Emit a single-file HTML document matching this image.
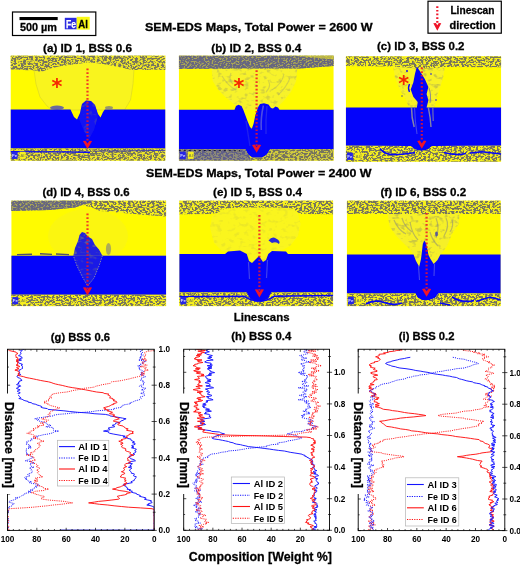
<!DOCTYPE html>
<html lang="en"><head><meta charset="utf-8"><title>SEM-EDS Maps and Linescans</title>
<style>
html,body{margin:0;padding:0;background:#fff;}
svg{display:block;}
text{font-family:"Liberation Sans",sans-serif;font-weight:bold;fill:#000;}
.h{stroke:#000;stroke-width:0.28px;}
</style></head><body>
<svg width="520" height="565" viewBox="0 0 520 565">
<defs>
<filter id="tex" x="0" y="0" width="1" height="1" color-interpolation-filters="sRGB">
<feTurbulence type="fractalNoise" baseFrequency="0.42 0.6" numOctaves="2" seed="4"/>
<feColorMatrix type="matrix" values="0 0 0 0 0.46  0 0 0 0 0.45  0 0 0 0 0.37  9 0 0 0 -4.0"/>
<feGaussianBlur stdDeviation="0.45"/>
<feComposite in2="SourceGraphic" operator="in"/>
</filter>
<filter id="texd" x="0" y="0" width="1" height="1" color-interpolation-filters="sRGB">
<feTurbulence type="fractalNoise" baseFrequency="0.5 0.7" numOctaves="2" seed="9"/>
<feColorMatrix type="matrix" values="0 0 0 0 0.40  0 0 0 0 0.40  0 0 0 0 0.50  7 0 0 0 -2.6"/>
<feGaussianBlur stdDeviation="0.4"/>
<feComposite in2="SourceGraphic" operator="in"/>
</filter>
<filter id="texl" x="0" y="0" width="1" height="1" color-interpolation-filters="sRGB">
<feTurbulence type="fractalNoise" baseFrequency="0.18 0.25" numOctaves="2" seed="12"/>
<feColorMatrix type="matrix" values="0 0 0 0 0.55  0 0 0 0 0.55  0 0 0 0 0.40  5 0 0 0 -2.7"/>
<feComposite in2="SourceGraphic" operator="in"/>
</filter>
<filter id="texy" x="0" y="0" width="1" height="1" color-interpolation-filters="sRGB">
<feTurbulence type="fractalNoise" baseFrequency="0.35 0.45" numOctaves="2" seed="21"/>
<feColorMatrix type="matrix" values="0 0 0 0 0.85  0 0 0 0 0.82  0 0 0 0 0.2  6 0 0 0 -3.0"/>
<feComposite in2="SourceGraphic" operator="in"/>
</filter>
</defs>
<rect x="0" y="0" width="520" height="565" fill="#fff"/>

<rect x="12.5" y="12" width="83.3" height="23.5" fill="#fff" stroke="#000" stroke-width="1.2"/>
<rect x="19.5" y="17" width="38.2" height="3.1" fill="#000"/>
<text x="20.0" y="31.3" font-size="10.6" text-anchor="start" textLength="37.0" lengthAdjust="spacingAndGlyphs" class="h">500 µm</text>
<rect x="64.8" y="17.8" width="11.9" height="11.5" fill="#2a2ae0"/>
<rect x="76.7" y="16.8" width="13" height="12.8" fill="#fafa14"/>
<text x="66.0" y="27.5" font-size="10.8" text-anchor="start" textLength="10.0" lengthAdjust="spacingAndGlyphs" style="fill:#fff;stroke:#fff;stroke-width:0.25px">Fe</text>
<text x="78.3" y="27.5" font-size="10.8" text-anchor="start" textLength="9.6" lengthAdjust="spacingAndGlyphs" class="h">Al</text>
<rect x="428" y="1.2" width="73.3" height="32" fill="#fff" stroke="#000" stroke-width="1.2"/>
<path d="M436.2 6.2h2.2v1.7h-2.2zM436.2 9.9h2.2v1.7h-2.2zM436.2 13.6h2.2v1.7h-2.2zM436.2 17.3h2.2v1.7h-2.2zM436.2 21.0h2.2v1.7h-2.2z" fill="#f01428" opacity="1.00"/>
<path d="M433.3 23.3 L435.9 22.9 L437.3 25.3 L438.7 22.9 L441.3 23.3 L437.3 30.7 Z" fill="#f01428"/>
<text x="450.4" y="13.6" font-size="10.2" text-anchor="start" textLength="44.1" lengthAdjust="spacingAndGlyphs" class="h">Linescan</text>
<text x="449.6" y="28.5" font-size="10.2" text-anchor="start" textLength="46.2" lengthAdjust="spacingAndGlyphs" class="h">direction</text>
<text x="145.0" y="31.0" font-size="11.6" text-anchor="start" textLength="227.5" lengthAdjust="spacingAndGlyphs" class="h">SEM-EDS Maps, Total Power = 2600 W</text>
<text x="146.0" y="176.8" font-size="11.6" text-anchor="start" textLength="225.5" lengthAdjust="spacingAndGlyphs" class="h">SEM-EDS Maps, Total Power = 2400 W</text>
<text x="233.8" y="320.5" font-size="11.6" text-anchor="start" textLength="55.7" lengthAdjust="spacingAndGlyphs" class="h">Linescans</text>
<text x="43.0" y="51.6" font-size="11.6" text-anchor="start" textLength="89.0" lengthAdjust="spacingAndGlyphs" class="h">(a) ID 1, BSS 0.6</text>
<text x="211.3" y="51.6" font-size="11.6" text-anchor="start" textLength="90.0" lengthAdjust="spacingAndGlyphs" class="h">(b) ID 2, BSS 0.4</text>
<text x="377.0" y="50.4" font-size="11.6" text-anchor="start" textLength="87.5" lengthAdjust="spacingAndGlyphs" class="h">(c) ID 3, BSS 0.2</text>
<text x="42.5" y="195.8" font-size="11.6" text-anchor="start" textLength="87.0" lengthAdjust="spacingAndGlyphs" class="h">(d) ID 4, BSS 0.6</text>
<text x="213.0" y="196.2" font-size="11.6" text-anchor="start" textLength="89.0" lengthAdjust="spacingAndGlyphs" class="h">(e) ID 5, BSS 0.4</text>
<text x="380.5" y="195.8" font-size="11.6" text-anchor="start" textLength="85.7" lengthAdjust="spacingAndGlyphs" class="h">(f) ID 6, BSS 0.2</text>
<text x="50.8" y="341.0" font-size="11.6" text-anchor="start" textLength="59.2" lengthAdjust="spacingAndGlyphs" class="h">(g) BSS 0.6</text>
<text x="231.3" y="340.3" font-size="11.6" text-anchor="start" textLength="60.0" lengthAdjust="spacingAndGlyphs" class="h">(h) BSS 0.4</text>
<text x="398.8" y="340.3" font-size="11.6" text-anchor="start" textLength="55.7" lengthAdjust="spacingAndGlyphs" class="h">(i) BSS 0.2</text>
<text x="188.8" y="561.0" font-size="13.2" text-anchor="start" textLength="143.2" lengthAdjust="spacingAndGlyphs" class="h">Composition [Weight %]</text>
<clipPath id="ca"><rect x="10.50" y="55.50" width="155.00" height="105.25"/></clipPath>
<g clip-path="url(#ca)">
<rect x="10.50" y="55.50" width="155.00" height="105.25" fill="#fffb00"/>
<polygon points="34.0,70.0 36.0,84.0 40.0,97.0 47.0,106.0 52.0,110.0 124.5,110.0 130.5,100.0 133.0,84.0 134.0,69.0 110.0,62.0 88.0,60.0 62.0,64.0" fill="#f9f41e" stroke="#c8c432" stroke-width="0.7" stroke-opacity="0.6"/>
<polygon points="10.5,55.5 165.5,55.5 165.5,70.0 132.0,70.0 120.0,67.3 109.0,65.0 98.0,63.3 88.0,62.3 79.0,63.8 61.0,66.0 50.0,68.5 41.0,72.0 35.0,70.5 10.5,69.5" fill="#eee626"/>
<polygon points="10.5,55.5 165.5,55.5 165.5,70.0 132.0,70.0 120.0,67.3 109.0,65.0 98.0,63.3 88.0,62.3 79.0,63.8 61.0,66.0 50.0,68.5 41.0,72.0 35.0,70.5 10.5,69.5" fill="#000" filter="url(#tex)"/>
<polygon points="10.5,109.6 70.5,109.6 74.0,117.0 77.0,119.5 80.0,113.0 82.0,104.0 86.0,100.5 91.0,101.0 95.0,105.0 98.0,114.0 100.5,117.5 103.0,112.0 104.8,109.6 165.5,109.6 165.5,148.5 10.5,148.5" fill="#0404fa"/>
<polygon points="79.0,119.0 82.0,104.0 86.0,100.5 91.0,101.0 95.0,105.0 98.0,116.0 94.0,130.0 89.0,139.0 84.0,131.0" fill="#3030e6" opacity="0.35"/>
<polygon points="79.0,119.0 82.0,104.0 86.0,100.5 91.0,101.0 95.0,105.0 98.0,116.0 94.0,130.0 89.0,139.0 84.0,131.0" fill="#000" filter="url(#texl)" opacity="0.22"/>
<ellipse cx="57" cy="107.8" rx="7" ry="2.2" fill="#3c3cc8" opacity="0.75"/>
<ellipse cx="109" cy="107.8" rx="4" ry="1.8" fill="#6e6e8c" opacity="0.7"/>
<rect x="10.50" y="148.50" width="155.00" height="12.25" fill="#eee626"/>
<rect x="10.50" y="148.50" width="155.00" height="12.25" fill="#000" filter="url(#tex)"/>
<path d="M10.5 151.6 L60 151.9 L90 152.3" stroke="#0404fa" stroke-width="1.4" fill="none"/>
<path d="M95 151.2 L165.5 150.4" stroke="#3a3ab4" stroke-width="0.9" fill="none"/>
<rect x="11.6" y="151.7" width="6" height="7.2" fill="#2626e6"/>
<rect x="19.5" y="151.7" width="5.9" height="7.2" fill="#f6f01e"/>
<text x="14.6" y="156.8" font-size="4.4" text-anchor="middle" style="fill:#dcdcff">Fe</text>
<text x="22.4" y="156.8" font-size="4.4" text-anchor="middle" style="fill:#8c8c46">Al</text>
</g>
<path d="M86.4 68.5h2.2v1.7h-2.2zM86.4 72.2h2.2v1.7h-2.2zM86.4 75.9h2.2v1.7h-2.2zM86.4 79.6h2.2v1.7h-2.2zM86.4 83.3h2.2v1.7h-2.2zM86.4 87.0h2.2v1.7h-2.2zM86.4 90.7h2.2v1.7h-2.2zM86.4 94.4h2.2v1.7h-2.2zM86.4 98.1h2.2v1.7h-2.2zM86.4 101.8h2.2v1.7h-2.2zM86.4 105.5h2.2v1.7h-2.2zM86.4 109.2h2.2v1.7h-2.2zM86.4 112.9h2.2v1.7h-2.2zM86.4 116.6h2.2v1.7h-2.2zM86.4 120.3h2.2v1.7h-2.2zM86.4 124.0h2.2v1.7h-2.2zM86.4 127.7h2.2v1.7h-2.2zM86.4 131.4h2.2v1.7h-2.2zM86.4 135.1h2.2v1.7h-2.2zM86.4 138.8h2.2v1.7h-2.2z" fill="#f01428" opacity="0.85"/>
<path d="M82.9 141.1 L85.5 140.7 L87.5 143.5 L89.5 140.7 L92.1 141.1 L87.5 148.9 Z" fill="#f01428"/>
<text x="57.0" y="93.8" font-size="20.8" text-anchor="middle" style="font-family:'DejaVu Sans',sans-serif;fill:#f52800;font-weight:bold">*</text>
<clipPath id="cb"><rect x="178.75" y="55.50" width="155.00" height="105.25"/></clipPath>
<g clip-path="url(#cb)">
<rect x="178.75" y="55.50" width="155.00" height="105.25" fill="#fffb00"/>
<polygon points="211.6,68.0 297.3,68.0 296.2,81.0 291.0,91.7 284.6,100.0 278.2,106.5 274.0,110.0 237.0,110.0 237.0,106.5 231.7,102.3 224.3,96.0 218.0,89.6 212.7,81.0" fill="#f7f22a"/>
<polygon points="211.6,68.0 297.3,68.0 296.2,81.0 291.0,91.7 284.6,100.0 278.2,106.5 274.0,110.0 237.0,110.0 237.0,106.5 231.7,102.3 224.3,96.0 218.0,89.6 212.7,81.0" fill="#000" filter="url(#texl)" opacity="0.3"/>
<path d="M222 76 Q228 86 236 90 M231 73 Q228 80 233 84 M284 74 Q282 84 272 90 M290 78 Q286 88 278 95 M268 80 Q272 86 266 92" stroke="#a0a06e" stroke-width="1.1" fill="none" opacity="0.4"/>
<polygon points="178.8,55.5 333.8,55.5 333.8,66.0 300.0,68.4 178.8,68.9" fill="#a8a458"/>
<polygon points="178.8,55.5 333.8,55.5 333.8,66.0 300.0,68.4 178.8,68.9" fill="#000" filter="url(#texd)"/>
<polygon points="293.0,55.5 333.8,55.5 333.8,59.5" fill="#eee626" opacity="0.6"/>
<polygon points="178.8,109.8 234.5,109.8 236.0,106.0 238.5,104.8 241.5,106.0 243.3,109.8 247.6,121.3 250.0,127.0 251.8,128.7 253.5,124.0 255.4,115.0 258.0,107.6 260.0,104.0 264.0,103.2 268.5,104.5 271.0,108.0 273.0,108.5 275.5,106.5 278.0,107.5 279.5,109.8 333.8,109.8 333.8,149.0 270.0,149.5 267.0,154.5 262.0,157.7 252.5,157.7 248.0,154.5 245.5,149.5 178.8,149.2" fill="#0404fa"/>
<path d="M263.4 105.5 Q260.5 118 261.3 130" stroke="#6464dc" stroke-width="1.6" fill="none" opacity="0.75"/>
<path d="M267 106 Q265.5 120 266 134" stroke="#3c3ce6" stroke-width="1.3" fill="none" opacity="0.6"/>
<path d="M246 121 Q248 134 250 146" stroke="#3232e6" stroke-width="1.4" fill="none" opacity="0.6"/>
<polygon points="178.8,149.2 245.5,149.5 248.0,154.5 252.5,157.7 262.0,157.7 267.0,154.5 270.0,149.5 333.8,149.0 333.8,160.8 178.8,160.8" fill="#d2cc3c"/>
<polygon points="178.8,149.2 245.5,149.5 248.0,154.5 252.5,157.7 262.0,157.7 267.0,154.5 270.0,149.5 333.8,149.0 333.8,160.8 178.8,160.8" fill="#000" filter="url(#tex)"/>
<polygon points="178.8,149.2 245.5,149.5 248.0,154.5 250.0,157.5 250.0,160.8 178.8,160.8" fill="#4a4ab4" opacity="0.5"/>
<path d="M178.8 150.3 L240 150.8" stroke="#101030" stroke-width="1" stroke-dasharray="2 3" fill="none"/>
<rect x="179.8" y="151.7" width="6" height="7.2" fill="#2626e6"/>
<rect x="187.8" y="151.7" width="5.9" height="7.2" fill="#f6f01e"/>
<text x="182.8" y="156.8" font-size="4.4" text-anchor="middle" style="fill:#dcdcff">Fe</text>
<text x="190.7" y="156.8" font-size="4.4" text-anchor="middle" style="fill:#8c8c46">Al</text>
</g>
<path d="M255.5 70.2h2.2v1.7h-2.2zM255.5 73.9h2.2v1.7h-2.2zM255.5 77.6h2.2v1.7h-2.2zM255.5 81.3h2.2v1.7h-2.2zM255.5 85.0h2.2v1.7h-2.2zM255.5 88.7h2.2v1.7h-2.2zM255.5 92.4h2.2v1.7h-2.2zM255.5 96.1h2.2v1.7h-2.2zM255.5 99.8h2.2v1.7h-2.2zM255.5 103.5h2.2v1.7h-2.2zM255.5 107.2h2.2v1.7h-2.2zM255.5 110.9h2.2v1.7h-2.2zM255.5 114.6h2.2v1.7h-2.2zM255.5 118.3h2.2v1.7h-2.2zM255.5 122.0h2.2v1.7h-2.2zM255.5 125.7h2.2v1.7h-2.2zM255.5 129.4h2.2v1.7h-2.2zM255.5 133.1h2.2v1.7h-2.2zM255.5 136.8h2.2v1.7h-2.2zM255.5 140.5h2.2v1.7h-2.2zM255.5 144.2h2.2v1.7h-2.2z" fill="#f01428" opacity="0.85"/>
<path d="M252.0 144.9 L254.6 144.5 L256.6 147.3 L258.6 144.5 L261.2 144.9 L256.6 152.7 Z" fill="#f01428"/>
<text x="239.0" y="93.8" font-size="20.8" text-anchor="middle" style="font-family:'DejaVu Sans',sans-serif;fill:#f52800;font-weight:bold">*</text>
<clipPath id="cc"><rect x="345.75" y="56.25" width="155.50" height="105.50"/></clipPath>
<g clip-path="url(#cc)">
<rect x="345.75" y="56.25" width="155.50" height="105.50" fill="#fffb00"/>
<polygon points="393.0,65.0 445.0,65.0 443.5,76.0 440.0,88.0 436.0,100.0 434.5,107.4 409.0,107.4 406.0,100.0 400.0,90.0 395.0,78.0" fill="#f8f226"/>
<polygon points="393.0,65.0 445.0,65.0 443.5,76.0 440.0,88.0 436.0,100.0 434.5,107.4 409.0,107.4 406.0,100.0 400.0,90.0 395.0,78.0" fill="#000" filter="url(#texl)" opacity="0.4"/>
<polygon points="345.8,56.2 501.2,56.2 501.2,67.3 445.0,67.0 432.0,68.3 420.0,68.6 406.0,67.6 394.0,66.4 345.8,66.0" fill="#f6f01c"/>
<polygon points="345.8,56.2 501.2,56.2 501.2,67.3 445.0,67.0 432.0,68.3 420.0,68.6 406.0,67.6 394.0,66.4 345.8,66.0" fill="#000" filter="url(#tex)"/>
<polygon points="345.8,107.4 416.9,107.4 417.7,102.0 413.3,96.7 410.7,89.6 413.3,82.5 415.0,73.7 416.9,66.6 420.4,72.0 424.8,79.0 428.4,87.0 426.6,94.0 428.4,100.2 426.6,107.4 501.2,107.4 501.2,145.8 432.0,146.0 428.0,149.5 421.5,151.0 415.0,149.5 410.5,146.0 345.8,145.8" fill="#0404fa"/>
<path d="M411.5 107.6 Q411.5 118 414.2 127" stroke="#9a9a9a" stroke-width="1.5" fill="none" opacity="0.85"/>
<path d="M428.4 107.6 Q430.5 118 431 127" stroke="#9a9a9a" stroke-width="1.4" fill="none" opacity="0.85"/>
<path d="M432.8 107.6 L433.2 121" stroke="#8c8ca0" stroke-width="1.2" fill="none" opacity="0.8"/>
<path d="M414.5 107.6 Q415 122 417 134" stroke="#5a5ae6" stroke-width="1.2" fill="none" opacity="0.7"/>
<path d="M409.5 84 Q407.5 88 409.5 92" stroke="#0404fa" stroke-width="1.4" fill="none"/>
<path d="M429 88 Q431.5 95 430 103" stroke="#7878a0" stroke-width="1.1" fill="none" opacity="0.8"/>
<circle cx="407" cy="71" r="0.9" fill="#0404fa"/><circle cx="436" cy="100" r="0.8" fill="#0404fa"/><circle cx="431" cy="74" r="0.8" fill="#0404fa"/><circle cx="402" cy="96" r="0.8" fill="#5050a0"/>
<polygon points="345.8,145.8 410.5,146.0 415.0,149.5 421.5,151.0 428.0,149.5 432.0,146.0 501.2,145.8 501.2,161.8 345.8,161.8" fill="#f6f01c"/>
<polygon points="345.8,145.8 410.5,146.0 415.0,149.5 421.5,151.0 428.0,149.5 432.0,146.0 501.2,145.8 501.2,161.8 345.8,161.8" fill="#000" filter="url(#tex)"/>
<path d="M380 148.5 Q384 154 392 154.5 T415 152.5" stroke="#0404fa" stroke-width="1.5" fill="none"/>
<path d="M444 152.5 Q456 156 466 153.5" stroke="#0404fa" stroke-width="1.4" fill="none"/>
<path d="M470 153 L482 151.8 L501.2 154" stroke="#0404fa" stroke-width="1.4" fill="none"/>
<rect x="346.9" y="152.7" width="6" height="7.2" fill="#2626e6"/>
<rect x="354.8" y="152.7" width="5.9" height="7.2" fill="#f6f01e"/>
<text x="349.9" y="157.8" font-size="4.4" text-anchor="middle" style="fill:#dcdcff">Fe</text>
<text x="357.7" y="157.8" font-size="4.4" text-anchor="middle" style="fill:#8c8c46">Al</text>
</g>
<path d="M420.7 67.5h2.2v1.7h-2.2zM420.7 71.2h2.2v1.7h-2.2zM420.7 74.9h2.2v1.7h-2.2zM420.7 78.6h2.2v1.7h-2.2zM420.7 82.3h2.2v1.7h-2.2zM420.7 86.0h2.2v1.7h-2.2zM420.7 89.7h2.2v1.7h-2.2zM420.7 93.4h2.2v1.7h-2.2zM420.7 97.1h2.2v1.7h-2.2zM420.7 100.8h2.2v1.7h-2.2zM420.7 104.5h2.2v1.7h-2.2zM420.7 108.2h2.2v1.7h-2.2zM420.7 111.9h2.2v1.7h-2.2zM420.7 115.6h2.2v1.7h-2.2zM420.7 119.3h2.2v1.7h-2.2zM420.7 123.0h2.2v1.7h-2.2zM420.7 126.7h2.2v1.7h-2.2zM420.7 130.4h2.2v1.7h-2.2zM420.7 134.1h2.2v1.7h-2.2zM420.7 137.8h2.2v1.7h-2.2z" fill="#f01428" opacity="0.85"/>
<path d="M417.2 141.0 L419.8 140.6 L421.8 143.4 L423.8 140.6 L426.4 141.0 L421.8 148.8 Z" fill="#f01428"/>
<text x="403.8" y="90.8" font-size="20.8" text-anchor="middle" style="font-family:'DejaVu Sans',sans-serif;fill:#f52800;font-weight:bold">*</text>
<clipPath id="cd"><rect x="11.25" y="200.50" width="155.00" height="105.75"/></clipPath>
<g clip-path="url(#cd)">
<rect x="11.25" y="200.50" width="155.00" height="105.75" fill="#fffb00"/>
<ellipse cx="88" cy="236" rx="40" ry="27" fill="#f6f028" opacity="0.4"/>
<polygon points="60.0,200.5 166.2,200.5 166.2,216.5 140.0,214.5 118.0,212.5 100.0,211.0 91.0,207.0 78.0,204.5" fill="#f6f01c"/>
<polygon points="60.0,200.5 166.2,200.5 166.2,216.5 140.0,214.5 118.0,212.5 100.0,211.0 91.0,207.0 78.0,204.5" fill="#000" filter="url(#tex)"/>
<polygon points="11.2,200.5 93.0,200.5 91.0,203.0 85.0,204.0 75.0,207.5 50.0,210.0 11.2,211.0" fill="#a8a458"/>
<polygon points="11.2,200.5 93.0,200.5 91.0,203.0 85.0,204.0 75.0,207.5 50.0,210.0 11.2,211.0" fill="#000" filter="url(#texd)"/>
<rect x="11.25" y="255.70" width="155.00" height="39.10" fill="#0404fa"/>
<polygon points="82.0,232.0 85.0,233.0 88.0,236.5 92.0,239.0 95.0,245.0 99.0,249.5 102.4,255.7 73.4,255.7 75.0,248.0 78.0,241.0 79.5,235.0" fill="#2222dc"/>
<polygon points="82.0,232.0 85.0,233.0 88.0,236.5 92.0,239.0 95.0,245.0 99.0,249.5 102.4,255.7 73.4,255.7 75.0,248.0 78.0,241.0 79.5,235.0" fill="#000" filter="url(#texl)" opacity="0.5"/>
<polygon points="73.4,255.7 102.4,255.7 99.0,266.0 94.0,278.0 87.6,286.0 82.5,277.0 77.0,266.0" fill="#1a1ae6"/>
<polyline points="102.4,255.7 99.0,266.0 94.0,278.0 87.6,286.0 82.5,277.0 77.0,266.0 73.4,255.7" fill="none" stroke="#8080b4" stroke-width="1" stroke-dasharray="1.5 1.2"/>
<polygon points="73.4,255.7 102.4,255.7 99.0,266.0 94.0,278.0 87.6,286.0 82.5,277.0 77.0,266.0" fill="#000" filter="url(#texl)" opacity="0.25"/>
<ellipse cx="108.5" cy="249" rx="2.6" ry="6" fill="#8c8c78" opacity="0.7"/>
<path d="M17 254.6 L32 254.2 M40 253.8 L52 254.4 M56 254 L69 254.6" stroke="#50506e" stroke-width="1.4" fill="none"/>
<polygon points="11.2,294.8 166.2,294.8 166.2,306.2 11.2,306.2" fill="#f6f01c"/>
<polygon points="11.2,294.8 166.2,294.8 166.2,306.2 11.2,306.2" fill="#000" filter="url(#tex)"/>
<rect x="12.3" y="297.1" width="6" height="7.2" fill="#2626e6"/>
<rect x="20.2" y="297.1" width="5.9" height="7.2" fill="#f6f01e"/>
<text x="15.3" y="302.4" font-size="4.4" text-anchor="middle" style="fill:#dcdcff">Fe</text>
<text x="23.2" y="302.4" font-size="4.4" text-anchor="middle" style="fill:#8c8c46">Al</text>
</g>
<path d="M86.4 213.5h2.2v1.7h-2.2zM86.4 217.2h2.2v1.7h-2.2zM86.4 220.9h2.2v1.7h-2.2zM86.4 224.6h2.2v1.7h-2.2zM86.4 228.3h2.2v1.7h-2.2zM86.4 232.0h2.2v1.7h-2.2zM86.4 235.7h2.2v1.7h-2.2zM86.4 239.4h2.2v1.7h-2.2zM86.4 243.1h2.2v1.7h-2.2zM86.4 246.8h2.2v1.7h-2.2zM86.4 250.5h2.2v1.7h-2.2zM86.4 254.2h2.2v1.7h-2.2zM86.4 257.9h2.2v1.7h-2.2zM86.4 261.6h2.2v1.7h-2.2zM86.4 265.3h2.2v1.7h-2.2zM86.4 269.0h2.2v1.7h-2.2zM86.4 272.7h2.2v1.7h-2.2zM86.4 276.4h2.2v1.7h-2.2zM86.4 280.1h2.2v1.7h-2.2zM86.4 283.8h2.2v1.7h-2.2zM86.4 287.5h2.2v1.7h-2.2z" fill="#f01428" opacity="0.85"/>
<path d="M82.9 287.6 L85.5 287.2 L87.5 290.0 L89.5 287.2 L92.1 287.6 L87.5 295.4 Z" fill="#f01428"/>
<clipPath id="ce"><rect x="179.25" y="200.50" width="154.00" height="105.75"/></clipPath>
<g clip-path="url(#ce)">
<rect x="179.25" y="200.50" width="154.00" height="105.75" fill="#fffb00"/>
<polygon points="225.0,207.0 293.0,207.0 298.0,214.0 300.6,224.0 298.0,236.0 290.0,246.0 280.6,251.0 268.0,254.0 265.0,262.0 250.0,262.0 247.0,254.0 222.0,251.0 214.0,243.0 210.0,228.0 212.0,216.0" fill="#faf51e"/>
<polygon points="225.0,207.0 293.0,207.0 298.0,214.0 300.6,224.0 298.0,236.0 290.0,246.0 280.6,251.0 268.0,254.0 265.0,262.0 250.0,262.0 247.0,254.0 222.0,251.0 214.0,243.0 210.0,228.0 212.0,216.0" fill="#000" filter="url(#texl)" opacity="0.12"/>
<polygon points="179.2,200.5 333.2,200.5 333.2,214.3 300.0,214.0 293.0,208.5 280.0,207.5 240.0,207.5 225.0,208.5 215.0,214.0 179.2,214.3" fill="#f6f01c"/>
<polygon points="179.2,200.5 333.2,200.5 333.2,214.3 300.0,214.0 293.0,208.5 280.0,207.5 240.0,207.5 225.0,208.5 215.0,214.0 179.2,214.3" fill="#000" filter="url(#tex)"/>
<polygon points="179.2,254.0 225.0,254.0 228.0,251.5 240.0,250.5 246.8,254.0 249.0,261.0 252.0,263.0 256.0,259.0 259.0,256.0 263.0,262.0 266.0,260.0 268.3,254.0 272.0,251.0 286.0,251.5 288.0,254.0 333.2,254.0 333.2,292.4 179.2,292.4" fill="#0404fa"/>
<path d="M248.5 262 L249.5 279" stroke="#5050e6" stroke-width="1.2" fill="none" opacity="0.8"/>
<path d="M267.5 260 L266.5 278" stroke="#5050e6" stroke-width="1.2" fill="none" opacity="0.8"/>
<path d="M268.5 240.5 Q272 236 276 238.5 Q281 241 279 244 Q276 241 272 243 Z" fill="#2828dc"/>
<polygon points="179.2,292.4 333.2,292.4 333.2,306.2 179.2,306.2" fill="#f6f01c"/>
<polygon points="179.2,292.4 333.2,292.4 333.2,306.2 179.2,306.2" fill="#000" filter="url(#tex)"/>
<path d="M179.2 296.6 L244 296.3 Q259 306 274 296.3 L333.2 295.5" stroke="#0404fa" stroke-width="1.4" fill="none"/>
<polygon points="246.5,292.0 271.5,292.0 268.0,298.5 262.0,301.6 255.0,301.6 250.0,298.5" fill="#0404fa"/>
<rect x="180.3" y="297.1" width="6" height="7.2" fill="#2626e6"/>
<rect x="188.2" y="297.1" width="5.9" height="7.2" fill="#f6f01e"/>
<text x="183.3" y="302.4" font-size="4.4" text-anchor="middle" style="fill:#dcdcff">Fe</text>
<text x="191.2" y="302.4" font-size="4.4" text-anchor="middle" style="fill:#8c8c46">Al</text>
</g>
<path d="M258.3 215.0h2.2v1.7h-2.2zM258.3 218.7h2.2v1.7h-2.2zM258.3 222.4h2.2v1.7h-2.2zM258.3 226.1h2.2v1.7h-2.2zM258.3 229.8h2.2v1.7h-2.2zM258.3 233.5h2.2v1.7h-2.2zM258.3 237.2h2.2v1.7h-2.2zM258.3 240.9h2.2v1.7h-2.2zM258.3 244.6h2.2v1.7h-2.2zM258.3 248.3h2.2v1.7h-2.2zM258.3 252.0h2.2v1.7h-2.2zM258.3 255.7h2.2v1.7h-2.2zM258.3 259.4h2.2v1.7h-2.2zM258.3 263.1h2.2v1.7h-2.2zM258.3 266.8h2.2v1.7h-2.2zM258.3 270.5h2.2v1.7h-2.2zM258.3 274.2h2.2v1.7h-2.2zM258.3 277.9h2.2v1.7h-2.2zM258.3 281.6h2.2v1.7h-2.2zM258.3 285.3h2.2v1.7h-2.2zM258.3 289.0h2.2v1.7h-2.2z" fill="#f01428" opacity="0.85"/>
<path d="M254.8 289.6 L257.4 289.2 L259.4 292.0 L261.4 289.2 L264.0 289.6 L259.4 297.4 Z" fill="#f01428"/>
<clipPath id="cf"><rect x="346.75" y="200.50" width="154.00" height="105.75"/></clipPath>
<g clip-path="url(#cf)">
<rect x="346.75" y="200.50" width="154.00" height="105.75" fill="#fffb00"/>
<polygon points="387.5,213.0 459.6,213.0 458.7,224.0 452.0,233.8 447.0,246.3 440.4,254.6 437.5,260.0 433.7,264.0 430.5,258.0 428.0,250.0 422.0,250.0 421.0,259.0 419.2,266.5 416.0,261.0 413.5,254.6 410.6,250.0 403.8,243.5 396.0,235.8 389.4,226.0" fill="#f6f028"/>
<polygon points="387.5,213.0 459.6,213.0 458.7,224.0 452.0,233.8 447.0,246.3 440.4,254.6 437.5,260.0 433.7,264.0 430.5,258.0 428.0,250.0 422.0,250.0 421.0,259.0 419.2,266.5 416.0,261.0 413.5,254.6 410.6,250.0 403.8,243.5 396.0,235.8 389.4,226.0" fill="#000" filter="url(#texl)" opacity="0.4"/>
<path d="M394 220 Q398 230 406 234 M402 218 Q404 226 412 232 M410 222 Q412 234 418 240 M436 218 Q440 228 436 238 M446 218 Q450 226 444 236 M452 220 Q454 226 450 232 M430 232 Q432 240 438 246" stroke="#8c8c78" stroke-width="1.2" fill="none" opacity="0.55"/>
<ellipse cx="436.5" cy="234" rx="1.4" ry="2.4" fill="#5a5a96"/>
<polygon points="346.8,200.5 500.8,200.5 500.8,213.9 346.8,213.9" fill="#f6f01c"/>
<polygon points="346.8,200.5 500.8,200.5 500.8,213.9 346.8,213.9" fill="#000" filter="url(#tex)"/>
<polygon points="346.8,254.6 413.5,254.6 416.0,261.0 419.2,266.8 421.0,259.0 422.0,251.0 422.8,244.0 424.2,240.6 426.0,243.0 427.5,250.0 428.5,255.0 430.5,259.0 433.7,264.0 437.5,260.0 440.4,254.6 500.8,254.6 500.8,293.4 438.5,293.4 435.0,298.0 429.0,300.2 422.0,300.2 417.5,297.5 415.4,293.4 346.8,293.4" fill="#0404fa"/>
<path d="M418.5 266 L419.5 280 M434.5 264 L434 276" stroke="#6464e6" stroke-width="1.1" fill="none" opacity="0.7"/>
<polygon points="346.8,293.4 415.4,293.4 417.5,297.5 422.0,300.2 429.0,300.2 435.0,298.0 438.5,293.4 500.8,293.4 500.8,306.2 346.8,306.2" fill="#f6f01c"/>
<polygon points="346.8,293.4 415.4,293.4 417.5,297.5 422.0,300.2 429.0,300.2 435.0,298.0 438.5,293.4 500.8,293.4 500.8,306.2 346.8,306.2" fill="#000" filter="url(#tex)"/>
<path d="M366 304 Q374 299 384 302.5 T402 303" stroke="#0404fa" stroke-width="1.8" fill="none"/>
<path d="M452 297 Q462 303.5 474 300.5" stroke="#0404fa" stroke-width="1.8" fill="none"/>
<path d="M476 301.5 L490 297 L500.8 300" stroke="#0404fa" stroke-width="1.6" fill="none"/>
<path d="M440 303 L450 305" stroke="#0404fa" stroke-width="1.6" fill="none"/>
<rect x="347.9" y="297.1" width="6" height="7.2" fill="#2626e6"/>
<rect x="355.8" y="297.1" width="5.9" height="7.2" fill="#f6f01e"/>
<text x="350.9" y="302.4" font-size="4.4" text-anchor="middle" style="fill:#dcdcff">Fe</text>
<text x="358.7" y="302.4" font-size="4.4" text-anchor="middle" style="fill:#8c8c46">Al</text>
</g>
<path d="M425.5 213.0h2.2v1.7h-2.2zM425.5 216.7h2.2v1.7h-2.2zM425.5 220.4h2.2v1.7h-2.2zM425.5 224.1h2.2v1.7h-2.2zM425.5 227.8h2.2v1.7h-2.2zM425.5 231.5h2.2v1.7h-2.2zM425.5 235.2h2.2v1.7h-2.2zM425.5 238.9h2.2v1.7h-2.2zM425.5 242.6h2.2v1.7h-2.2zM425.5 246.3h2.2v1.7h-2.2zM425.5 250.0h2.2v1.7h-2.2zM425.5 253.7h2.2v1.7h-2.2zM425.5 257.4h2.2v1.7h-2.2zM425.5 261.1h2.2v1.7h-2.2zM425.5 264.8h2.2v1.7h-2.2zM425.5 268.5h2.2v1.7h-2.2zM425.5 272.2h2.2v1.7h-2.2zM425.5 275.9h2.2v1.7h-2.2zM425.5 279.6h2.2v1.7h-2.2zM425.5 283.3h2.2v1.7h-2.2zM425.5 287.0h2.2v1.7h-2.2z" fill="#f01428" opacity="0.85"/>
<path d="M422.0 288.9 L424.6 288.5 L426.6 291.3 L428.6 288.5 L431.2 288.9 L426.6 296.7 Z" fill="#f01428"/>
<clipPath id="pg"><rect x="7.5" y="349.2" width="146.7" height="181.1"/></clipPath><g clip-path="url(#pg)">
<polyline points="23.8,349.2 22.9,349.9 20.5,350.6 21.2,351.4 20.9,352.1 20.2,352.8 21.3,353.5 20.4,354.3 19.6,355.0 18.5,355.7 21.1,356.4 21.3,357.2 22.4,357.9 19.7,358.6 19.0,359.3 21.5,360.1 18.6,360.8 17.3,361.5 18.1,362.2 18.6,363.0 20.9,363.7 22.5,364.4 21.0,365.1 22.4,365.9 22.4,366.6 22.2,367.3 23.0,368.0 21.5,368.8 20.9,369.5 18.9,370.2 19.4,370.9 19.1,371.7 19.6,372.4 19.1,373.1 19.8,373.8 20.8,374.6 18.2,375.3 17.0,376.0 17.1,376.7 17.7,377.5 19.6,378.2 20.8,378.9 21.0,379.6 22.1,380.4 19.4,381.1 19.8,381.8 18.0,382.5 19.1,383.3 17.1,384.0 16.6,384.7 20.1,385.4 20.7,386.2 17.8,386.9 18.4,387.6 16.4,388.3 18.0,389.1 20.1,389.8 18.6,390.5 17.2,391.2 18.7,392.0 20.2,392.7 19.7,393.4 16.7,394.1 16.2,394.9 18.8,395.6 19.3,396.3 20.2,397.0 20.8,397.8 18.8,398.5 22.1,399.2 23.0,399.9 24.9,400.7 28.0,401.4 28.0,402.1 31.7,402.8 32.2,403.6 35.8,404.3 37.1,405.0 39.7,405.7 41.7,406.5 41.0,407.2 42.9,407.9 47.3,408.6 48.1,409.4 55.6,410.1 63.9,410.8 69.7,411.5 77.8,412.3 88.9,413.0 94.1,413.7 105.3,414.4 109.2,415.2 109.9,415.9 114.2,416.6 118.0,417.3 122.5,418.1 126.1,418.8 123.8,419.5 123.5,420.2 120.9,421.0 120.4,421.7 119.2,422.4 115.5,423.1 115.7,423.9 114.8,424.6 112.3,425.3 114.2,426.0 114.6,426.8 110.2,427.5 108.1,428.2 109.6,428.9 110.0,429.7 106.7,430.4 103.5,431.1 108.8,431.8 108.4,432.6 109.9,433.3 113.2,434.0 117.0,434.7 121.6,435.5 125.2,436.2 123.0,436.9 127.0,437.6 127.4,438.4 131.1,439.1 130.9,439.8 131.2,440.5 133.0,441.2 134.5,442.0 132.4,442.7 134.9,443.4 135.3,444.1 133.8,444.9 131.6,445.6 132.0,446.3 134.0,447.0 131.5,447.8 134.3,448.5 136.4,449.2 135.9,449.9 134.6,450.7 136.0,451.4 135.9,452.1 134.8,452.8 133.1,453.6 134.6,454.3 133.9,455.0 130.8,455.7 128.9,456.5 129.7,457.2 129.9,457.9 130.5,458.6 133.0,459.4 134.7,460.1 135.5,460.8 131.1,461.5 130.2,462.3 128.3,463.0 132.4,463.7 131.0,464.4 131.1,465.2 129.8,465.9 131.4,466.6 128.4,467.3 131.9,468.1 131.0,468.8 130.2,469.5 129.3,470.2 130.1,471.0 131.0,471.7 131.3,472.4 131.1,473.1 134.3,473.9 134.3,474.6 133.5,475.3 133.7,476.0 136.4,476.8 136.1,477.5 135.4,478.2 135.2,478.9 134.2,479.7 134.3,480.4 132.5,481.1 130.9,481.8 132.3,482.6 129.2,483.3 125.2,484.0 123.3,484.7 123.7,485.5 126.2,486.2 125.8,486.9 126.7,487.6 128.1,488.4 126.9,489.1 130.6,489.8 129.0,490.5 132.4,491.3 131.2,492.0 133.1,492.7 136.4,493.4 136.6,494.2 138.9,494.9 140.4,495.6 139.5,496.3 142.8,497.1 145.8,497.8 146.0,498.5 144.4,499.2 147.7,500.0 151.3,500.7 150.6,501.4 152.1,502.1 151.7,502.9 148.4,503.6 149.1,504.3 146.8,505.0 151.0,505.8 152.8,506.5 154.2,507.2 154.1,507.9 154.0,508.7 154.2,509.4 154.1,510.1 154.2,510.8 154.2,511.6 154.2,512.3 154.1,513.0 154.0,513.7 154.0,514.5 153.9,515.2 154.2,515.9 154.2,516.6 154.2,517.4 154.2,518.1 154.2,518.8 154.2,519.5 154.2,520.3 154.2,521.0 154.2,521.7 154.1,522.4 153.9,523.2 154.1,523.9 154.2,524.6 154.2,525.3 154.2,526.1 154.2,526.8 154.2,527.5 154.2,528.2 154.2,529.0 154.1,529.7 154.2,530.4" fill="none" stroke="#1414ff" stroke-width="0.95" stroke-linejoin="round"/>
<polyline points="139.6,349.2 140.2,349.9 141.6,350.6 139.9,351.4 142.0,352.1 142.9,352.8 141.4,353.5 140.4,354.3 143.3,355.0 142.3,355.7 140.0,356.4 141.6,357.2 139.2,357.9 142.2,358.6 143.0,359.3 138.4,360.1 144.6,360.8 146.1,361.5 142.1,362.2 143.4,363.0 141.9,363.7 139.8,364.4 141.2,365.1 137.7,365.9 140.3,366.6 140.5,367.3 138.4,368.0 140.0,368.8 139.2,369.5 141.6,370.2 142.8,370.9 143.6,371.7 140.9,372.4 140.9,373.1 143.6,373.8 140.0,374.6 142.2,375.3 144.2,376.0 145.6,376.7 143.0,377.5 141.3,378.2 142.0,378.9 140.2,379.6 140.6,380.4 143.9,381.1 142.5,381.8 144.3,382.5 143.0,383.3 144.1,384.0 143.9,384.7 140.0,385.4 139.4,386.2 142.2,386.9 142.3,387.6 146.0,388.3 144.8,389.1 141.2,389.8 143.0,390.5 143.9,391.2 144.4,392.0 142.6,392.7 140.5,393.4 144.6,394.1 144.8,394.9 144.4,395.6 142.8,396.3 140.0,397.0 140.4,397.8 141.2,398.5 140.7,399.2 138.9,399.9 135.7,400.7 133.9,401.4 132.7,402.1 129.7,402.8 130.8,403.6 127.3,404.3 122.8,405.0 123.3,405.7 121.1,406.5 121.3,407.2 118.1,407.9 113.2,408.6 113.7,409.4 106.1,410.1 96.8,410.8 92.8,411.5 84.4,412.3 72.4,413.0 67.1,413.7 58.1,414.4 53.9,415.2 53.1,415.9 46.7,416.6 43.1,417.3 37.5,418.1 34.7,418.8 38.8,419.5 37.3,420.2 39.1,421.0 41.8,421.7 44.2,422.4 46.7,423.1 46.7,423.9 48.0,424.6 51.0,425.3 48.8,426.0 45.8,426.8 53.1,427.5 53.2,428.2 53.1,428.9 52.8,429.7 53.9,430.4 58.9,431.1 54.0,431.8 53.4,432.6 51.1,433.3 48.4,434.0 43.5,434.7 40.5,435.5 36.4,436.2 37.9,436.9 34.9,437.6 33.5,438.4 30.7,439.1 32.1,439.8 31.8,440.5 27.7,441.2 26.3,442.0 27.7,442.7 26.1,443.4 26.1,444.1 29.1,444.9 28.8,445.6 31.1,446.3 28.0,447.0 31.4,447.8 27.8,448.5 25.9,449.2 26.1,449.9 26.3,450.7 25.5,451.4 26.7,452.1 25.9,452.8 27.8,453.6 26.0,454.3 29.4,455.0 30.5,455.7 31.4,456.5 32.8,457.2 32.9,457.9 30.1,458.6 29.2,459.4 27.4,460.1 25.1,460.8 31.0,461.5 32.6,462.3 34.4,463.0 29.8,463.7 30.0,464.4 31.0,465.2 30.9,465.9 31.9,466.6 34.2,467.3 29.3,468.1 30.8,468.8 31.5,469.5 30.8,470.2 32.4,471.0 31.8,471.7 32.1,472.4 30.7,473.1 28.1,473.9 27.5,474.6 29.9,475.3 29.8,476.0 25.7,476.8 24.7,477.5 27.0,478.2 25.0,478.9 27.2,479.7 27.8,480.4 28.2,481.1 31.7,481.8 29.1,482.6 31.3,483.3 36.3,484.0 39.0,484.7 39.4,485.5 35.2,486.2 37.0,486.9 35.4,487.6 33.4,488.4 33.2,489.1 30.5,489.8 32.6,490.5 28.0,491.3 31.2,492.0 29.0,492.7 24.7,493.4 24.9,494.2 23.8,494.9 21.6,495.6 21.1,496.3 19.8,497.1 15.1,497.8 17.3,498.5 15.7,499.2 13.4,500.0 11.0,500.7 9.4,501.4 8.6,502.1 11.5,502.9 14.2,503.6 12.6,504.3 13.1,505.0 12.0,505.8 10.5,506.5 8.2,507.2 9.2,507.9 8.0,508.7 7.4,509.4 7.8,510.1 8.8,510.8 9.2,511.6 6.4,512.3 7.8,513.0 7.8,513.7 7.8,514.5 7.1,515.2 6.1,515.9 6.3,516.6 6.7,517.4 8.1,518.1 8.7,518.8 8.9,519.5 6.2,520.3 9.1,521.0 7.3,521.7 6.2,522.4 8.4,523.2 8.0,523.9 7.8,524.6 5.9,525.3 6.9,526.1 6.3,526.8 9.1,527.5 6.7,528.2 7.7,529.0 7.9,529.7 6.4,530.4" fill="none" stroke="#1414ff" stroke-width="0.95" stroke-linejoin="round" stroke-dasharray="1.1 1.1"/>
<polyline points="7.6,349.2 8.3,349.9 9.4,350.6 13.0,351.4 16.0,352.1 16.5,352.8 18.0,353.5 16.1,354.3 15.6,355.0 15.8,355.7 16.1,356.4 15.8,357.2 17.9,357.9 17.6,358.6 18.7,359.3 16.0,360.1 18.5,360.8 16.3,361.5 18.6,362.2 17.0,363.0 17.8,363.7 17.9,364.4 16.0,365.1 18.8,365.9 19.9,366.6 16.7,367.3 17.0,368.0 19.0,368.8 16.0,369.5 14.9,370.2 18.0,370.9 18.1,371.7 19.5,372.4 19.3,373.1 17.9,373.8 19.3,374.6 17.6,375.3 20.6,376.0 23.7,376.7 26.0,377.5 29.7,378.2 33.3,378.9 36.6,379.6 40.3,380.4 44.1,381.1 48.4,381.8 51.1,382.5 53.1,383.3 55.5,384.0 58.6,384.7 62.2,385.4 65.3,386.2 68.3,386.9 72.2,387.6 77.1,388.3 81.4,389.1 85.3,389.8 89.0,390.5 92.3,391.2 96.6,392.0 103.1,392.7 104.1,393.4 108.8,394.1 107.8,394.9 109.7,395.6 110.0,396.3 110.7,397.0 109.5,397.8 112.8,398.5 112.4,399.2 114.5,399.9 113.2,400.7 116.4,401.4 117.0,402.1 116.7,402.8 113.3,403.6 113.9,404.3 111.1,405.0 110.2,405.7 108.4,406.5 105.7,407.2 103.6,407.9 105.7,408.6 104.6,409.4 108.8,410.1 107.2,410.8 109.9,411.5 112.5,412.3 110.8,413.0 109.4,413.7 113.9,414.4 114.8,415.2 112.8,415.9 114.5,416.6 116.0,417.3 118.2,418.1 119.3,418.8 117.0,419.5 114.3,420.2 113.3,421.0 115.8,421.7 119.7,422.4 120.1,423.1 118.1,423.9 117.8,424.6 119.5,425.3 123.0,426.0 123.7,426.8 125.0,427.5 125.4,428.2 128.2,428.9 126.6,429.7 126.7,430.4 131.4,431.1 133.4,431.8 132.0,432.6 133.3,433.3 129.5,434.0 129.4,434.7 127.7,435.5 126.3,436.2 127.6,436.9 127.1,437.6 126.4,438.4 123.2,439.1 121.0,439.8 122.4,440.5 118.8,441.2 120.6,442.0 122.7,442.7 123.0,443.4 120.5,444.1 122.0,444.9 122.7,445.6 121.7,446.3 121.5,447.0 122.7,447.8 125.5,448.5 126.1,449.2 125.1,449.9 125.6,450.7 127.2,451.4 129.6,452.1 130.8,452.8 129.8,453.6 130.3,454.3 133.7,455.0 131.7,455.7 130.0,456.5 129.1,457.2 127.9,457.9 127.1,458.6 128.4,459.4 127.4,460.1 128.8,460.8 130.6,461.5 129.9,462.3 129.4,463.0 125.7,463.7 125.0,464.4 125.2,465.2 124.6,465.9 126.7,466.6 125.2,467.3 123.4,468.1 123.9,468.8 124.7,469.5 123.9,470.2 123.7,471.0 121.4,471.7 123.3,472.4 124.8,473.1 124.4,473.9 122.3,474.6 121.2,475.3 121.3,476.0 120.1,476.8 122.6,477.5 125.7,478.2 124.8,478.9 124.7,479.7 126.2,480.4 124.5,481.1 125.5,481.8 126.7,482.6 126.9,483.3 123.8,484.0 125.8,484.7 123.4,485.5 121.7,486.2 120.2,486.9 117.1,487.6 115.8,488.4 112.5,489.1 116.6,489.8 119.2,490.5 125.1,491.3 128.1,492.0 130.5,492.7 126.6,493.4 126.8,494.2 124.6,494.9 120.3,495.6 117.3,496.3 118.0,497.1 118.5,497.8 119.6,498.5 118.5,499.2 111.9,500.0 106.0,500.7 98.5,501.4 94.3,502.1 88.6,502.9 94.4,503.6 99.7,504.3 107.8,505.0 114.1,505.8 121.3,506.5 128.4,507.2 140.4,507.9 152.0,508.7 153.9,509.4 154.2,510.1 154.2,510.8 154.2,511.6 154.2,512.3 154.1,513.0 154.1,513.7 154.2,514.5 154.0,515.2 154.0,515.9 154.2,516.6 154.2,517.4 154.2,518.1 154.1,518.8 154.1,519.5 154.0,520.3 154.2,521.0 154.1,521.7 154.2,522.4 154.2,523.2 154.2,523.9 154.2,524.6 154.2,525.3 154.1,526.1 154.2,526.8 154.2,527.5 154.2,528.2 154.1,529.0 154.1,529.7 154.2,530.4" fill="none" stroke="#ff1414" stroke-width="0.95" stroke-linejoin="round"/>
<polyline points="155.6,349.2 154.4,349.9 153.0,350.6 147.3,351.4 145.7,352.1 144.4,352.8 145.1,353.5 145.6,354.3 144.9,355.0 145.9,355.7 144.1,356.4 144.6,357.2 144.2,357.9 145.8,358.6 142.1,359.3 147.0,360.1 144.9,360.8 144.6,361.5 141.9,362.2 143.6,363.0 142.3,363.7 144.9,364.4 147.2,365.1 144.2,365.9 140.1,366.6 146.4,367.3 145.9,368.0 144.3,368.8 147.3,369.5 148.5,370.2 144.2,370.9 144.8,371.7 142.9,372.4 140.9,373.1 145.0,373.8 141.3,374.6 143.3,375.3 140.9,376.0 137.7,376.7 134.8,377.5 131.7,378.2 129.3,378.9 125.7,379.6 122.3,380.4 118.0,381.1 111.6,381.8 110.9,382.5 110.2,383.3 106.3,384.0 102.0,384.7 99.7,385.4 95.7,386.2 94.9,386.9 91.1,387.6 84.0,388.3 81.9,389.1 77.1,389.8 73.1,390.5 70.5,391.2 66.8,392.0 60.3,392.7 56.0,393.4 52.2,394.1 52.3,394.9 52.0,395.6 50.1,396.3 49.7,397.0 51.8,397.8 48.8,398.5 49.3,399.2 48.1,399.9 49.0,400.7 44.5,401.4 45.7,402.1 43.7,402.8 48.4,403.6 47.5,404.3 49.5,405.0 51.0,405.7 54.5,406.5 56.9,407.2 59.9,407.9 57.7,408.6 55.5,409.4 52.6,410.1 52.9,410.8 50.8,411.5 49.9,412.3 49.3,413.0 50.8,413.7 48.0,414.4 48.4,415.2 49.5,415.9 48.4,416.6 46.2,417.3 45.0,418.1 41.6,418.8 43.0,419.5 48.4,420.2 47.4,421.0 45.6,421.7 42.1,422.4 40.2,423.1 44.0,423.9 42.7,424.6 43.9,425.3 37.0,426.0 39.1,426.8 38.5,427.5 34.9,428.2 32.7,428.9 34.5,429.7 34.0,430.4 30.8,431.1 29.6,431.8 30.4,432.6 26.8,433.3 30.5,434.0 33.3,434.7 34.2,435.5 35.6,436.2 32.7,436.9 36.3,437.6 34.1,438.4 39.4,439.1 40.5,439.8 40.6,440.5 44.4,441.2 39.8,442.0 39.0,442.7 37.1,443.4 39.9,444.1 38.8,444.9 40.5,445.6 39.6,446.3 38.5,447.0 39.0,447.8 37.8,448.5 36.7,449.2 34.9,449.9 34.4,450.7 35.3,451.4 32.8,452.1 30.1,452.8 31.9,453.6 32.5,454.3 26.3,455.0 29.6,455.7 32.2,456.5 34.2,457.2 33.7,457.9 33.7,458.6 34.4,459.4 35.8,460.1 32.1,460.8 29.6,461.5 32.3,462.3 32.4,463.0 35.5,463.7 36.6,464.4 37.8,465.2 37.9,465.9 36.0,466.6 37.6,467.3 39.8,468.1 38.2,468.8 38.0,469.5 36.6,470.2 38.7,471.0 38.7,471.7 37.3,472.4 37.7,473.1 38.5,473.9 39.1,474.6 40.6,475.3 40.2,476.0 43.0,476.8 38.9,477.5 35.1,478.2 37.1,478.9 37.8,479.7 34.0,480.4 37.9,481.1 34.4,481.8 34.4,482.6 36.6,483.3 38.1,484.0 37.1,484.7 37.3,485.5 40.3,486.2 43.0,486.9 43.0,487.6 44.9,488.4 48.8,489.1 44.9,489.8 44.0,490.5 34.9,491.3 34.3,492.0 31.1,492.7 35.1,493.4 35.0,494.2 38.8,494.9 40.0,495.6 44.4,496.3 44.1,497.1 41.9,497.8 40.9,498.5 42.5,499.2 48.3,500.0 56.3,500.7 64.5,501.4 67.9,502.1 72.7,502.9 66.2,503.6 61.2,504.3 53.4,505.0 47.2,505.8 39.8,506.5 33.1,507.2 23.0,507.9 9.5,508.7 8.6,509.4 9.0,510.1 7.1,510.8 6.3,511.6 8.3,512.3 7.0,513.0 7.1,513.7 6.9,514.5 6.3,515.2 7.1,515.9 9.0,516.6 7.1,517.4 8.0,518.1 7.9,518.8 7.0,519.5 8.8,520.3 7.1,521.0 6.0,521.7 9.0,522.4 6.3,523.2 6.8,523.9 7.8,524.6 6.6,525.3 9.1,526.1 8.7,526.8 5.7,527.5 7.1,528.2 8.8,529.0 8.9,529.7 7.7,530.4" fill="none" stroke="#ff1414" stroke-width="0.95" stroke-linejoin="round" stroke-dasharray="1.1 1.1"/>
<line x1="60" y1="529.8" x2="154.2" y2="529.8" stroke="#5050d0" stroke-width="0.8"/>
</g>
<g stroke="#000" stroke-width="0.9" fill="none">
<rect x="7.50" y="349.25" width="146.70" height="181.15"/>
<path d="M7.50 349.25v2.6M7.50 530.40v-2.6M13.37 349.25v1.4M13.37 530.40v-1.4M19.24 349.25v1.4M19.24 530.40v-1.4M25.10 349.25v1.4M25.10 530.40v-1.4M30.97 349.25v1.4M30.97 530.40v-1.4M36.84 349.25v2.6M36.84 530.40v-2.6M42.71 349.25v1.4M42.71 530.40v-1.4M48.58 349.25v1.4M48.58 530.40v-1.4M54.44 349.25v1.4M54.44 530.40v-1.4M60.31 349.25v1.4M60.31 530.40v-1.4M66.18 349.25v2.6M66.18 530.40v-2.6M72.05 349.25v1.4M72.05 530.40v-1.4M77.92 349.25v1.4M77.92 530.40v-1.4M83.78 349.25v1.4M83.78 530.40v-1.4M89.65 349.25v1.4M89.65 530.40v-1.4M95.52 349.25v2.6M95.52 530.40v-2.6M101.39 349.25v1.4M101.39 530.40v-1.4M107.26 349.25v1.4M107.26 530.40v-1.4M113.12 349.25v1.4M113.12 530.40v-1.4M118.99 349.25v1.4M118.99 530.40v-1.4M124.86 349.25v2.6M124.86 530.40v-2.6M130.73 349.25v1.4M130.73 530.40v-1.4M136.60 349.25v1.4M136.60 530.40v-1.4M142.46 349.25v1.4M142.46 530.40v-1.4M148.33 349.25v1.4M148.33 530.40v-1.4M154.20 349.25v2.6M154.20 530.40v-2.6M7.50 530.40h2.6M154.20 530.40h-2.6M154.20 530.40h2.6M7.50 512.25h1.4M154.20 512.25h-1.4M154.20 512.25h1.4M7.50 494.10h2.6M154.20 494.10h-2.6M154.20 494.10h2.6M7.50 475.95h1.4M154.20 475.95h-1.4M154.20 475.95h1.4M7.50 457.80h2.6M154.20 457.80h-2.6M154.20 457.80h2.6M7.50 439.65h1.4M154.20 439.65h-1.4M154.20 439.65h1.4M7.50 421.50h2.6M154.20 421.50h-2.6M154.20 421.50h2.6M7.50 403.35h1.4M154.20 403.35h-1.4M154.20 403.35h1.4M7.50 385.20h2.6M154.20 385.20h-2.6M154.20 385.20h2.6M7.50 367.05h1.4M154.20 367.05h-1.4M154.20 367.05h1.4" stroke-width="0.7"/>
</g>
<text x="7.5" y="541.6" font-size="8.2" text-anchor="middle">100</text>
<text x="36.8" y="541.6" font-size="8.2" text-anchor="middle">80</text>
<text x="66.2" y="541.6" font-size="8.2" text-anchor="middle">60</text>
<text x="95.5" y="541.6" font-size="8.2" text-anchor="middle">40</text>
<text x="124.9" y="541.6" font-size="8.2" text-anchor="middle">20</text>
<text x="154.2" y="541.6" font-size="8.2" text-anchor="middle">0</text>
<text x="158.6" y="533.3" font-size="8.2" text-anchor="start">0.0</text>
<text x="158.6" y="497.0" font-size="8.2" text-anchor="start">0.2</text>
<text x="158.6" y="460.7" font-size="8.2" text-anchor="start">0.4</text>
<text x="158.6" y="424.4" font-size="8.2" text-anchor="start">0.6</text>
<text x="158.6" y="388.1" font-size="8.2" text-anchor="start">0.8</text>
<text x="158.6" y="351.8" font-size="8.2" text-anchor="start">1.0</text>
<rect x="57.5" y="440.3" width="51.3" height="45.7" fill="#fff" stroke="#b4b4b4" stroke-width="0.7"/>
<line x1="59.0" y1="446.6" x2="75.0" y2="446.6" stroke="#1414ff" stroke-width="1.1"/>
<text x="78.3" y="449.9" font-size="9.3" text-anchor="start" textLength="29.3" lengthAdjust="spacingAndGlyphs">Al ID 1</text>
<line x1="59.0" y1="458.0" x2="75.0" y2="458.0" stroke="#1414ff" stroke-width="1.1" stroke-dasharray="1.2 1.2"/>
<text x="78.3" y="461.3" font-size="9.3" text-anchor="start" textLength="29.3" lengthAdjust="spacingAndGlyphs">Fe ID 1</text>
<line x1="59.0" y1="469.0" x2="75.0" y2="469.0" stroke="#ff1414" stroke-width="1.1"/>
<text x="78.3" y="472.3" font-size="9.3" text-anchor="start" textLength="29.3" lengthAdjust="spacingAndGlyphs">Al ID 4</text>
<line x1="59.0" y1="480.5" x2="75.0" y2="480.5" stroke="#ff1414" stroke-width="1.1" stroke-dasharray="1.2 1.2"/>
<text x="78.3" y="483.8" font-size="9.3" text-anchor="start" textLength="29.3" lengthAdjust="spacingAndGlyphs">Fe ID 4</text>
<rect x="2.6" y="393.5" width="15.5" height="100.5" fill="#fff"/>
<text transform="translate(5.2 445) rotate(90)" class="h" font-size="12.8" text-anchor="middle" textLength="86" lengthAdjust="spacingAndGlyphs">Distance [mm]</text>
<clipPath id="ph"><rect x="183.7" y="349.2" width="145.8" height="181.0"/></clipPath><g clip-path="url(#ph)">
<polyline points="209.6,349.2 206.9,349.9 206.1,350.5 207.0,351.1 209.4,351.8 206.2,352.4 204.6,353.0 206.2,353.7 207.1,354.3 209.5,354.9 212.4,355.6 211.0,356.2 208.8,356.8 211.7,357.5 207.6,358.1 210.0,358.7 211.2,359.4 213.2,360.0 206.9,360.6 206.0,361.3 204.7,361.9 206.1,362.5 211.1,363.2 211.2,363.8 210.0,364.4 212.4,365.1 207.2,365.7 209.4,366.3 212.0,366.9 208.2,367.6 211.7,368.2 207.3,368.8 209.0,369.5 209.0,370.1 210.6,370.7 210.3,371.4 212.5,372.0 214.6,372.6 209.2,373.3 211.6,373.9 208.5,374.5 211.4,375.2 206.9,375.8 205.4,376.4 205.8,377.1 205.9,377.7 207.3,378.3 206.8,379.0 211.1,379.6 210.4,380.2 207.3,380.9 210.7,381.5 206.7,382.1 205.2,382.7 208.1,383.4 209.7,384.0 209.8,384.6 210.3,385.3 205.9,385.9 208.5,386.5 212.3,387.2 213.6,387.8 209.4,388.4 205.4,389.1 207.3,389.7 208.2,390.3 208.1,391.0 206.6,391.6 209.8,392.2 208.4,392.9 208.1,393.5 207.4,394.1 210.4,394.8 211.9,395.4 211.1,396.0 206.4,396.7 208.6,397.3 207.7,397.9 209.5,398.5 211.8,399.2 213.1,399.8 208.0,400.4 205.9,401.1 208.0,401.7 206.6,402.3 206.0,403.0 204.0,403.6 202.7,404.2 206.2,404.9 203.4,405.5 202.3,406.1 204.6,406.8 203.3,407.4 205.8,408.0 207.7,408.7 209.5,409.3 205.5,409.9 209.1,410.6 211.4,411.2 206.9,411.8 205.0,412.5 206.4,413.1 204.3,413.7 209.2,414.3 209.9,415.0 209.9,415.6 208.9,416.2 210.1,416.9 211.1,417.5 209.3,418.1 204.0,418.8 200.7,419.4 200.8,420.0 202.6,420.7 204.9,421.3 200.3,421.9 201.3,422.6 200.2,423.2 204.9,423.8 205.6,424.5 201.1,425.1 199.3,425.7 197.7,426.4 199.1,427.0 200.9,427.6 200.5,428.3 198.2,428.9 203.0,429.5 206.1,430.1 211.2,430.8 211.6,431.4 219.4,432.0 220.5,432.7 222.0,433.3 224.5,433.9 221.7,434.6 219.3,435.2 216.5,435.8 214.9,436.5 214.1,437.1 212.3,437.7 212.3,438.4 214.3,439.0 218.8,439.6 222.4,440.3 225.4,440.9 228.4,441.5 230.0,442.2 233.2,442.8 234.0,443.4 236.4,444.1 240.6,444.7 242.7,445.3 245.8,445.9 248.3,446.6 254.1,447.2 259.7,447.8 264.9,448.5 269.6,449.1 273.5,449.7 278.6,450.4 284.3,451.0 287.1,451.6 290.2,452.3 294.1,452.9 298.0,453.5 302.0,454.2 302.9,454.8 305.1,455.4 304.6,456.1 306.8,456.7 306.9,457.3 308.9,458.0 309.1,458.6 311.0,459.2 312.4,459.9 312.3,460.5 312.9,461.1 310.8,461.7 312.7,462.4 312.8,463.0 312.9,463.6 311.3,464.3 314.5,464.9 314.0,465.5 314.3,466.2 313.7,466.8 312.4,467.4 314.7,468.1 314.1,468.7 314.6,469.3 314.7,470.0 316.9,470.6 314.7,471.2 313.0,471.9 315.0,472.5 316.1,473.1 313.6,473.8 316.5,474.4 317.9,475.0 318.6,475.7 315.7,476.3 314.7,476.9 315.6,477.5 315.3,478.2 317.8,478.8 316.2,479.4 316.4,480.1 316.2,480.7 316.8,481.3 317.0,482.0 317.8,482.6 319.0,483.2 317.8,483.9 318.1,484.5 316.2,485.1 314.9,485.8 314.6,486.4 315.7,487.0 317.1,487.7 317.1,488.3 316.7,488.9 315.8,489.6 314.0,490.2 317.0,490.8 316.6,491.5 316.3,492.1 315.2,492.7 314.0,493.3 313.9,494.0 314.5,494.6 314.2,495.2 314.4,495.9 313.7,496.5 314.0,497.1 314.3,497.8 316.3,498.4 314.2,499.0 315.6,499.7 315.2,500.3 314.1,500.9 313.0,501.6 312.4,502.2 316.4,502.8 316.8,503.5 317.0,504.1 316.8,504.7 317.7,505.4 316.3,506.0 317.8,506.6 317.5,507.3 314.5,507.9 314.0,508.5 315.0,509.1 317.0,509.8 314.2,510.4 314.0,511.0 316.1,511.7 316.5,512.3 315.3,512.9 314.6,513.6 316.1,514.2 313.7,514.8 315.4,515.5 316.4,516.1 314.3,516.7 316.4,517.4 315.0,518.0 316.4,518.6 315.4,519.3 316.3,519.9 316.2,520.5 313.7,521.2 314.7,521.8 315.2,522.4 314.6,523.1 315.9,523.7 316.9,524.3 316.4,524.9 316.6,525.6 317.1,526.2 313.9,526.8 316.6,527.5 314.3,528.1 312.8,528.7 313.1,529.4 316.2,530.0" fill="none" stroke="#1414ff" stroke-width="0.95" stroke-linejoin="round"/>
<polyline points="304.1,349.2 307.5,349.9 308.6,350.5 304.4,351.1 303.4,351.8 306.2,352.4 308.3,353.0 307.5,353.7 305.1,354.3 303.4,354.9 299.6,355.6 301.5,356.2 303.0,356.8 301.8,357.5 307.1,358.1 304.7,358.7 301.1,359.4 301.5,360.0 305.7,360.6 306.6,361.3 310.5,361.9 305.9,362.5 304.1,363.2 300.4,363.8 301.7,364.4 302.0,365.1 305.0,365.7 302.8,366.3 302.9,366.9 304.3,367.6 303.1,368.2 304.1,368.8 303.4,369.5 302.1,370.1 304.5,370.7 303.7,371.4 300.2,372.0 298.1,372.6 305.4,373.3 299.9,373.9 303.2,374.5 302.7,375.2 307.9,375.8 307.0,376.4 307.8,377.1 306.6,377.7 305.9,378.3 306.9,379.0 304.2,379.6 304.4,380.2 306.0,380.9 301.5,381.5 306.8,382.1 306.9,382.7 304.9,383.4 301.8,384.0 302.7,384.6 303.7,385.3 308.9,385.9 306.6,386.5 302.9,387.2 298.0,387.8 302.2,388.4 306.7,389.1 307.6,389.7 304.3,390.3 306.7,391.0 304.9,391.6 302.7,392.2 303.7,392.9 304.7,393.5 306.1,394.1 301.2,394.8 299.3,395.4 303.2,396.0 307.1,396.7 303.5,397.3 304.7,397.9 304.1,398.5 301.6,399.2 298.1,399.8 306.2,400.4 308.5,401.1 304.3,401.7 307.5,402.3 305.4,403.0 309.9,403.6 308.7,404.2 307.5,404.9 308.2,405.5 309.8,406.1 307.6,406.8 311.1,407.4 308.9,408.0 307.6,408.7 305.1,409.3 306.9,409.9 306.0,410.6 302.9,411.2 306.0,411.8 309.7,412.5 307.6,413.1 310.1,413.7 303.2,414.3 305.0,415.0 301.1,415.6 303.8,416.2 302.1,416.9 301.8,417.5 303.9,418.1 307.2,418.8 310.8,419.4 311.0,420.0 312.6,420.7 307.9,421.3 310.9,421.9 311.3,422.6 313.0,423.2 307.6,423.8 309.0,424.5 311.1,425.1 312.7,425.7 317.3,426.4 314.1,427.0 311.8,427.6 313.3,428.3 314.2,428.9 308.3,429.5 305.4,430.1 302.8,430.8 303.1,431.4 292.2,432.0 292.2,432.7 289.7,433.3 287.1,433.9 292.4,434.6 293.6,435.2 297.6,435.8 297.0,436.5 298.2,437.1 302.1,437.7 300.9,438.4 298.5,439.0 295.5,439.6 292.2,440.3 287.9,440.9 286.7,441.5 283.2,442.2 278.1,442.8 277.8,443.4 278.7,444.1 271.2,444.7 269.5,445.3 266.5,445.9 267.0,446.6 258.0,447.2 254.9,447.8 246.9,448.5 244.4,449.1 240.3,449.7 236.1,450.4 227.3,451.0 227.3,451.6 221.4,452.3 219.1,452.9 216.7,453.5 210.5,454.2 210.2,454.8 210.2,455.4 207.1,456.1 207.4,456.7 208.4,457.3 203.2,458.0 203.1,458.6 202.7,459.2 202.1,459.9 200.8,460.5 199.9,461.1 201.6,461.7 200.6,462.4 200.1,463.0 199.4,463.6 203.2,464.3 200.0,464.9 199.3,465.5 197.7,466.2 198.2,466.8 199.2,467.4 198.8,468.1 198.2,468.7 200.4,469.3 199.0,470.0 198.2,470.6 197.1,471.2 198.0,471.9 197.5,472.5 196.0,473.1 200.1,473.8 195.5,474.4 197.1,475.0 195.2,475.7 198.2,476.3 197.0,476.9 199.0,477.5 199.4,478.2 197.2,478.8 195.5,479.4 197.6,480.1 195.2,480.7 197.3,481.3 194.8,482.0 196.7,482.6 192.4,483.2 193.3,483.9 193.4,484.5 196.1,485.1 196.6,485.8 196.7,486.4 195.5,487.0 197.0,487.7 194.5,488.3 195.3,488.9 198.1,489.6 200.7,490.2 194.5,490.8 196.7,491.5 196.7,492.1 196.3,492.7 199.3,493.3 200.4,494.0 197.9,494.6 198.9,495.2 199.8,495.9 198.7,496.5 197.4,497.1 200.0,497.8 195.6,498.4 197.9,499.0 197.5,499.7 199.3,500.3 198.4,500.9 201.1,501.6 201.9,502.2 195.3,502.8 197.4,503.5 197.9,504.1 194.9,504.7 193.3,505.4 197.7,506.0 195.8,506.6 195.5,507.3 197.6,507.9 201.3,508.5 197.5,509.1 197.3,509.8 197.1,510.4 199.6,511.0 195.1,511.7 196.9,512.3 197.2,512.9 200.7,513.6 198.4,514.2 200.4,514.8 198.4,515.5 198.2,516.1 199.2,516.7 198.6,517.4 197.9,518.0 194.7,518.6 196.3,519.3 196.4,519.9 194.9,520.5 198.5,521.2 198.0,521.8 198.2,522.4 200.4,523.1 195.6,523.7 194.6,524.3 195.5,524.9 195.7,525.6 194.7,526.2 197.3,526.8 194.6,527.5 197.7,528.1 202.5,528.7 198.2,529.4 196.7,530.0" fill="none" stroke="#1414ff" stroke-width="0.95" stroke-linejoin="round" stroke-dasharray="1.1 1.1"/>
<polyline points="196.2,349.2 201.8,349.9 205.4,350.5 197.9,351.1 202.2,351.8 204.6,352.4 200.8,353.0 201.8,353.7 197.2,354.3 201.3,354.9 196.3,355.6 200.0,356.2 199.0,356.8 195.5,357.5 196.1,358.1 194.2,358.7 195.3,359.4 202.0,360.0 197.2,360.6 197.7,361.3 200.5,361.9 202.9,362.5 197.8,363.2 198.0,363.8 194.7,364.4 194.7,365.1 193.0,365.7 195.9,366.3 195.9,366.9 196.7,367.6 200.3,368.2 195.4,368.8 199.2,369.5 196.5,370.1 193.7,370.7 195.2,371.4 200.6,372.0 196.7,372.6 196.4,373.3 200.8,373.9 204.0,374.5 201.0,375.2 204.3,375.8 197.4,376.4 198.2,377.1 198.5,377.7 199.6,378.3 197.8,379.0 194.6,379.6 198.8,380.2 200.1,380.9 198.7,381.5 200.8,382.1 198.9,382.7 198.6,383.4 199.4,384.0 197.6,384.6 198.1,385.3 202.4,385.9 195.9,386.5 199.0,387.2 199.6,387.8 200.2,388.4 195.5,389.1 193.2,389.7 196.3,390.3 198.7,391.0 202.6,391.6 197.0,392.2 201.2,392.9 199.5,393.5 200.7,394.1 201.4,394.8 201.4,395.4 203.0,396.0 205.1,396.7 201.4,397.3 197.3,397.9 196.9,398.5 200.8,399.2 198.0,399.8 202.7,400.4 201.5,401.1 197.1,401.7 194.2,402.3 197.2,403.0 195.0,403.6 197.2,404.2 198.0,404.9 197.8,405.5 193.9,406.1 194.4,406.8 197.2,407.4 196.1,408.0 196.4,408.7 199.2,409.3 196.4,409.9 194.9,410.6 196.1,411.2 193.6,411.8 201.1,412.5 199.9,413.1 198.2,413.7 200.1,414.3 202.6,415.0 198.8,415.6 199.5,416.2 201.4,416.9 204.4,417.5 197.1,418.1 199.5,418.8 202.8,419.4 203.4,420.0 203.3,420.7 197.5,421.3 201.3,421.9 202.1,422.6 204.2,423.2 201.6,423.8 202.9,424.5 202.2,425.1 198.3,425.7 194.8,426.4 194.3,427.0 201.7,427.6 201.9,428.3 197.8,428.9 203.7,429.5 204.9,430.1 202.9,430.8 203.1,431.4 202.7,432.0 206.8,432.7 211.1,433.3 215.5,433.9 219.5,434.6 230.2,435.2 258.9,435.8 283.3,436.5 306.2,437.1 310.7,437.7 311.2,438.4 314.0,439.0 313.7,439.6 313.4,440.3 315.4,440.9 314.3,441.5 315.8,442.2 313.3,442.8 315.4,443.4 313.6,444.1 311.3,444.7 310.8,445.3 313.2,445.9 313.0,446.6 314.6,447.2 314.4,447.8 312.0,448.5 311.2,449.1 314.3,449.7 314.0,450.4 312.8,451.0 314.2,451.6 312.1,452.3 310.7,452.9 311.6,453.5 312.8,454.2 311.2,454.8 311.9,455.4 313.6,456.1 314.0,456.7 314.7,457.3 312.0,458.0 312.2,458.6 311.4,459.2 310.6,459.9 309.5,460.5 312.4,461.1 312.7,461.7 310.8,462.4 310.4,463.0 311.9,463.6 311.3,464.3 313.1,464.9 314.0,465.5 314.9,466.2 313.8,466.8 314.0,467.4 312.8,468.1 310.4,468.7 312.8,469.3 312.2,470.0 310.6,470.6 311.0,471.2 311.5,471.9 310.7,472.5 313.6,473.1 310.9,473.8 310.8,474.4 310.3,475.0 310.0,475.7 313.0,476.3 314.5,476.9 314.8,477.5 313.4,478.2 311.0,478.8 310.0,479.4 311.7,480.1 311.6,480.7 311.0,481.3 312.6,482.0 310.5,482.6 309.7,483.2 310.3,483.9 309.8,484.5 310.0,485.1 310.8,485.8 312.6,486.4 313.6,487.0 314.2,487.7 315.3,488.3 312.0,488.9 313.3,489.6 315.1,490.2 314.6,490.8 315.4,491.5 314.2,492.1 314.2,492.7 314.9,493.3 313.9,494.0 313.7,494.6 313.9,495.2 312.0,495.9 313.4,496.5 313.0,497.1 311.4,497.8 310.3,498.4 312.4,499.0 314.8,499.7 311.9,500.3 312.5,500.9 314.1,501.6 315.2,502.2 315.2,502.8 315.0,503.5 315.6,504.1 316.3,504.7 312.5,505.4 311.5,506.0 314.2,506.6 313.8,507.3 312.2,507.9 312.9,508.5 315.0,509.1 314.9,509.8 314.6,510.4 312.2,511.0 312.2,511.7 312.3,512.3 311.3,512.9 313.1,513.6 310.8,514.2 308.9,514.8 308.3,515.5 309.1,516.1 309.4,516.7 310.5,517.4 310.5,518.0 310.2,518.6 308.6,519.3 306.4,519.9 307.7,520.5 307.1,521.2 306.0,521.8 305.5,522.4 309.1,523.1 307.5,523.7 308.9,524.3 311.4,524.9 313.4,525.6 311.8,526.2 310.0,526.8 311.8,527.5 312.4,528.1 311.9,528.7 313.4,529.4 313.0,530.0" fill="none" stroke="#ff1414" stroke-width="0.95" stroke-linejoin="round"/>
<polyline points="316.0,349.2 313.0,349.9 308.3,350.5 316.0,351.1 309.6,351.8 307.4,352.4 310.3,353.0 312.7,353.7 315.9,354.3 313.5,354.9 317.7,355.6 312.7,356.2 315.8,356.8 318.6,357.5 316.0,358.1 318.4,358.7 318.7,359.4 310.4,360.0 314.3,360.6 317.2,361.3 310.9,361.9 309.0,362.5 315.7,363.2 316.3,363.8 316.1,364.4 318.7,365.1 321.6,365.7 318.7,366.3 315.3,366.9 315.6,367.6 311.1,368.2 316.3,368.8 313.4,369.5 314.1,370.1 319.6,370.7 317.3,371.4 310.7,372.0 315.5,372.6 314.8,373.3 311.6,373.9 307.9,374.5 313.8,375.2 309.7,375.8 316.3,376.4 316.4,377.1 315.4,377.7 314.9,378.3 316.0,379.0 317.6,379.6 314.5,380.2 313.2,380.9 315.3,381.5 313.0,382.1 311.9,382.7 313.6,383.4 312.9,384.0 316.6,384.6 313.7,385.3 311.8,385.9 317.4,386.5 311.7,387.2 312.5,387.8 312.3,388.4 316.4,389.1 318.0,389.7 315.3,390.3 315.2,391.0 312.2,391.6 316.6,392.2 312.6,392.9 314.5,393.5 310.2,394.1 309.8,394.8 312.2,395.4 309.1,396.0 308.1,396.7 309.5,397.3 315.6,397.9 316.9,398.5 313.0,399.2 314.5,399.8 311.1,400.4 310.9,401.1 313.9,401.7 319.0,402.3 316.8,403.0 315.6,403.6 315.5,404.2 316.6,404.9 317.0,405.5 320.6,406.1 317.8,406.8 314.3,407.4 317.0,408.0 318.3,408.7 314.1,409.3 314.2,409.9 317.8,410.6 314.6,411.2 317.6,411.8 313.8,412.5 311.9,413.1 313.8,413.7 312.5,414.3 311.2,415.0 313.3,415.6 314.9,416.2 311.6,416.9 308.6,417.5 313.7,418.1 311.6,418.8 311.0,419.4 309.4,420.0 310.9,420.7 313.5,421.3 309.8,421.9 311.5,422.6 308.0,423.2 310.7,423.8 311.4,424.5 309.4,425.1 314.3,425.7 316.7,426.4 318.3,427.0 313.3,427.6 311.6,428.3 317.1,428.9 307.2,429.5 306.2,430.1 308.4,430.8 310.5,431.4 312.0,432.0 304.3,432.7 299.7,433.3 299.1,433.9 293.3,434.6 284.5,435.2 252.7,435.8 228.3,436.5 208.1,437.1 202.2,437.7 201.3,438.4 199.8,439.0 197.5,439.6 199.7,440.3 198.6,440.9 198.3,441.5 195.9,442.2 200.8,442.8 198.1,443.4 197.0,444.1 200.8,444.7 202.2,445.3 199.4,445.9 201.4,446.6 199.4,447.2 199.0,447.8 200.3,448.5 202.8,449.1 199.7,449.7 200.6,450.4 199.4,451.0 199.7,451.6 198.9,452.3 200.5,452.9 203.0,453.5 201.1,454.2 200.8,454.8 202.1,455.4 200.7,456.1 196.8,456.7 197.8,457.3 200.9,458.0 199.3,458.6 200.0,459.2 203.6,459.9 205.1,460.5 200.7,461.1 200.4,461.7 202.1,462.4 201.3,463.0 200.1,463.6 199.3,464.3 201.4,464.9 199.2,465.5 198.6,466.2 197.4,466.8 199.9,467.4 201.3,468.1 202.6,468.7 200.3,469.3 201.5,470.0 203.3,470.6 199.9,471.2 201.5,471.9 200.5,472.5 198.9,473.1 203.8,473.8 199.7,474.4 201.0,475.0 200.7,475.7 197.9,476.3 196.7,476.9 199.5,477.5 199.4,478.2 203.1,478.8 203.2,479.4 203.0,480.1 201.7,480.7 199.6,481.3 201.2,482.0 201.0,482.6 203.3,483.2 202.8,483.9 201.0,484.5 200.6,485.1 201.7,485.8 199.2,486.4 200.7,487.0 199.4,487.7 195.4,488.3 200.4,488.9 199.3,489.6 196.6,490.2 200.1,490.8 197.0,491.5 198.5,492.1 197.0,492.7 199.4,493.3 196.8,494.0 200.9,494.6 200.2,495.2 200.3,495.9 198.6,496.5 200.9,497.1 203.1,497.8 200.8,498.4 201.5,499.0 197.6,499.7 200.3,500.3 200.6,500.9 198.3,501.6 197.4,502.2 195.6,502.8 199.1,503.5 196.2,504.1 197.6,504.7 200.7,505.4 200.5,506.0 199.4,506.6 199.8,507.3 199.4,507.9 201.8,508.5 197.9,509.1 195.7,509.8 196.0,510.4 202.5,511.0 201.8,511.7 201.5,512.3 199.6,512.9 198.0,513.6 200.3,514.2 204.5,514.8 206.0,515.5 202.2,516.1 202.5,516.7 201.8,517.4 200.1,518.0 201.9,518.6 206.3,519.3 205.0,519.9 205.9,520.5 204.9,521.2 204.8,521.8 208.9,522.4 205.3,523.1 207.0,523.7 203.7,524.3 202.4,524.9 198.9,525.6 200.0,526.2 204.0,526.8 200.4,527.5 201.4,528.1 200.9,528.7 197.6,529.4 198.2,530.0" fill="none" stroke="#ff1414" stroke-width="0.95" stroke-linejoin="round" stroke-dasharray="1.1 1.1"/>
</g>
<g stroke="#000" stroke-width="0.9" fill="none">
<rect x="183.70" y="349.25" width="145.80" height="181.05"/>
<path d="M183.70 349.25v2.6M183.70 530.30v-2.6M189.53 349.25v1.4M189.53 530.30v-1.4M195.36 349.25v1.4M195.36 530.30v-1.4M201.20 349.25v1.4M201.20 530.30v-1.4M207.03 349.25v1.4M207.03 530.30v-1.4M212.86 349.25v2.6M212.86 530.30v-2.6M218.69 349.25v1.4M218.69 530.30v-1.4M224.52 349.25v1.4M224.52 530.30v-1.4M230.36 349.25v1.4M230.36 530.30v-1.4M236.19 349.25v1.4M236.19 530.30v-1.4M242.02 349.25v2.6M242.02 530.30v-2.6M247.85 349.25v1.4M247.85 530.30v-1.4M253.68 349.25v1.4M253.68 530.30v-1.4M259.52 349.25v1.4M259.52 530.30v-1.4M265.35 349.25v1.4M265.35 530.30v-1.4M271.18 349.25v2.6M271.18 530.30v-2.6M277.01 349.25v1.4M277.01 530.30v-1.4M282.84 349.25v1.4M282.84 530.30v-1.4M288.68 349.25v1.4M288.68 530.30v-1.4M294.51 349.25v1.4M294.51 530.30v-1.4M300.34 349.25v2.6M300.34 530.30v-2.6M306.17 349.25v1.4M306.17 530.30v-1.4M312.00 349.25v1.4M312.00 530.30v-1.4M317.84 349.25v1.4M317.84 530.30v-1.4M323.67 349.25v1.4M323.67 530.30v-1.4M329.50 349.25v2.6M329.50 530.30v-2.6M183.70 530.30h2.6M329.50 530.30h-2.6M329.50 530.30h2.6M183.70 514.50h1.4M329.50 514.50h-1.4M329.50 514.50h1.4M183.70 498.70h2.6M329.50 498.70h-2.6M329.50 498.70h2.6M183.70 482.90h1.4M329.50 482.90h-1.4M329.50 482.90h1.4M183.70 467.10h2.6M329.50 467.10h-2.6M329.50 467.10h2.6M183.70 451.30h1.4M329.50 451.30h-1.4M329.50 451.30h1.4M183.70 435.50h2.6M329.50 435.50h-2.6M329.50 435.50h2.6M183.70 419.70h1.4M329.50 419.70h-1.4M329.50 419.70h1.4M183.70 403.90h2.6M329.50 403.90h-2.6M329.50 403.90h2.6M183.70 388.10h1.4M329.50 388.10h-1.4M329.50 388.10h1.4M183.70 372.30h2.6M329.50 372.30h-2.6M329.50 372.30h2.6M183.70 356.50h1.4M329.50 356.50h-1.4M329.50 356.50h1.4" stroke-width="0.7"/>
</g>
<text x="183.7" y="541.5" font-size="8.2" text-anchor="middle">100</text>
<text x="212.9" y="541.5" font-size="8.2" text-anchor="middle">80</text>
<text x="242.0" y="541.5" font-size="8.2" text-anchor="middle">60</text>
<text x="271.2" y="541.5" font-size="8.2" text-anchor="middle">40</text>
<text x="300.3" y="541.5" font-size="8.2" text-anchor="middle">20</text>
<text x="329.5" y="541.5" font-size="8.2" text-anchor="middle">0</text>
<text x="334.0" y="533.2" font-size="8.2" text-anchor="start">0.0</text>
<text x="334.0" y="501.6" font-size="8.2" text-anchor="start">0.2</text>
<text x="334.0" y="470.0" font-size="8.2" text-anchor="start">0.4</text>
<text x="334.0" y="438.4" font-size="8.2" text-anchor="start">0.6</text>
<text x="334.0" y="406.8" font-size="8.2" text-anchor="start">0.8</text>
<text x="334.0" y="375.2" font-size="8.2" text-anchor="start">1.0</text>
<rect x="231.3" y="477.0" width="53.2" height="46.5" fill="#fff" stroke="#b4b4b4" stroke-width="0.7"/>
<line x1="232.8" y1="483.5" x2="250.0" y2="483.5" stroke="#1414ff" stroke-width="1.1"/>
<text x="253.8" y="486.8" font-size="9.3" text-anchor="start" textLength="29.3" lengthAdjust="spacingAndGlyphs">Al ID 2</text>
<line x1="232.8" y1="495.2" x2="250.0" y2="495.2" stroke="#1414ff" stroke-width="1.1" stroke-dasharray="1.2 1.2"/>
<text x="253.8" y="498.5" font-size="9.3" text-anchor="start" textLength="29.3" lengthAdjust="spacingAndGlyphs">Fe ID 2</text>
<line x1="232.8" y1="506.5" x2="250.0" y2="506.5" stroke="#ff1414" stroke-width="1.1"/>
<text x="253.8" y="509.8" font-size="9.3" text-anchor="start" textLength="29.3" lengthAdjust="spacingAndGlyphs">Al ID 5</text>
<line x1="232.8" y1="518.2" x2="250.0" y2="518.2" stroke="#ff1414" stroke-width="1.1" stroke-dasharray="1.2 1.2"/>
<text x="253.8" y="521.5" font-size="9.3" text-anchor="start" textLength="29.3" lengthAdjust="spacingAndGlyphs">Fe ID 5</text>
<rect x="177.0" y="393.5" width="15.5" height="100.5" fill="#fff"/>
<text transform="translate(179.6 445) rotate(90)" class="h" font-size="12.8" text-anchor="middle" textLength="86" lengthAdjust="spacingAndGlyphs">Distance [mm]</text>
<clipPath id="pi"><rect x="358.2" y="349.2" width="146.6" height="181.4"/></clipPath><g clip-path="url(#pi)">
<polyline points="400.1,349.2 402.2,349.9 396.8,350.5 394.4,351.1 388.5,351.8 388.4,352.4 383.5,353.0 385.4,353.7 379.0,354.3 379.0,354.9 379.3,355.6 377.7,356.2 375.6,356.8 378.8,357.5 377.7,358.1 379.8,358.7 380.2,359.4 379.7,360.0 378.9,360.6 378.2,361.3 374.3,361.9 375.0,362.5 372.2,363.2 370.6,363.8 369.8,364.4 369.0,365.1 371.2,365.7 371.5,366.3 370.1,366.9 371.7,367.6 375.2,368.2 374.1,368.8 373.5,369.5 375.6,370.1 377.1,370.7 377.0,371.4 373.4,372.0 370.8,372.6 370.8,373.3 372.5,373.9 376.0,374.5 377.8,375.2 374.0,375.8 373.2,376.4 373.3,377.1 375.4,377.7 376.6,378.3 376.8,379.0 377.3,379.6 374.1,380.2 374.8,380.9 373.3,381.5 373.6,382.1 372.8,382.7 371.1,383.4 370.1,384.0 374.1,384.6 370.2,385.3 369.2,385.9 368.9,386.5 371.4,387.2 369.0,387.8 368.9,388.4 373.1,389.1 371.8,389.7 370.2,390.3 370.2,391.0 369.2,391.6 371.5,392.2 371.5,392.9 375.8,393.5 373.7,394.1 376.4,394.8 373.6,395.4 371.2,396.0 373.9,396.7 377.3,397.3 379.1,397.9 376.6,398.5 378.1,399.2 374.8,399.8 374.2,400.4 374.8,401.1 373.9,401.7 377.3,402.3 376.7,403.0 379.4,403.6 377.2,404.2 375.1,404.9 379.2,405.5 377.7,406.1 375.2,406.8 378.5,407.4 380.8,408.0 382.1,408.7 383.5,409.3 389.2,409.9 392.4,410.6 397.5,411.2 400.9,411.8 404.5,412.5 408.6,413.1 414.5,413.7 418.6,414.3 423.5,415.0 425.9,415.6 420.0,416.2 413.8,416.9 406.5,417.5 400.4,418.1 396.6,418.8 391.5,419.4 388.1,420.0 384.8,420.7 379.6,421.3 381.5,421.9 381.4,422.6 382.2,423.2 383.4,423.8 384.2,424.5 385.2,425.1 385.5,425.7 386.7,426.4 391.4,427.0 394.4,427.6 398.1,428.3 400.6,428.9 405.8,429.5 409.2,430.1 411.3,430.8 417.4,431.4 421.5,432.0 425.7,432.7 431.1,433.3 437.8,433.9 441.8,434.6 447.7,435.2 452.4,435.8 455.7,436.5 460.8,437.1 465.7,437.7 470.5,438.4 474.4,439.0 479.1,439.6 479.7,440.3 480.0,440.9 483.0,441.5 483.8,442.2 484.2,442.8 485.2,443.4 487.7,444.1 488.9,444.7 489.7,445.3 490.0,445.9 489.0,446.6 488.9,447.2 488.7,447.8 491.0,448.5 492.3,449.1 491.5,449.7 491.3,450.4 492.1,451.0 492.3,451.6 486.8,452.3 482.0,452.9 479.6,453.5 475.9,454.2 470.3,454.8 466.3,455.4 462.9,456.1 457.4,456.7 461.8,457.3 466.5,458.0 469.7,458.6 472.7,459.2 475.1,459.9 477.6,460.5 482.1,461.1 481.8,461.7 480.5,462.4 481.0,463.0 480.2,463.6 479.8,464.3 479.8,464.9 480.3,465.5 481.9,466.2 480.3,466.8 481.5,467.4 483.9,468.1 485.6,468.7 487.3,469.3 488.0,470.0 488.4,470.6 487.0,471.2 487.0,471.9 487.9,472.5 490.1,473.1 489.5,473.8 490.0,474.4 489.1,475.0 491.1,475.7 489.7,476.3 489.6,476.9 492.1,477.5 489.8,478.2 490.9,478.8 491.6,479.4 492.4,480.1 492.5,480.7 490.6,481.3 489.2,482.0 490.7,482.6 491.0,483.2 491.5,483.9 493.3,484.5 490.6,485.1 491.5,485.8 493.8,486.4 493.8,487.0 493.5,487.7 491.1,488.3 492.9,488.9 493.8,489.6 490.7,490.2 492.1,490.8 489.8,491.5 493.1,492.1 494.2,492.7 494.1,493.3 493.3,494.0 492.2,494.6 492.7,495.2 489.9,495.9 488.8,496.5 490.0,497.1 488.6,497.8 488.6,498.4 488.0,499.0 489.6,499.7 492.5,500.3 491.7,500.9 493.8,501.6 493.0,502.2 489.9,502.8 491.3,503.5 490.6,504.1 489.0,504.7 489.5,505.4 491.2,506.0 491.4,506.6 493.3,507.3 491.0,507.9 490.7,508.5 492.0,509.1 492.1,509.8 490.2,510.4 493.1,511.0 493.6,511.7 491.9,512.3 490.4,512.9 490.9,513.6 490.7,514.2 493.5,514.8 492.1,515.5 491.6,516.1 493.6,516.7 492.4,517.4 493.1,518.0 493.0,518.6 490.9,519.3 489.7,519.9 493.0,520.5 494.2,521.2 492.1,521.8 489.9,522.4 490.2,523.1 491.7,523.7 490.5,524.3 489.2,524.9 492.6,525.6 494.2,526.2 493.1,526.8 491.3,527.5 491.3,528.1 491.6,528.7 493.2,529.4 493.9,530.0" fill="none" stroke="#ff1414" stroke-width="0.95" stroke-linejoin="round"/>
<polyline points="461.4,349.2 462.0,349.9 464.6,350.5 469.5,351.1 474.6,351.8 473.2,352.4 480.0,353.0 477.6,353.7 485.1,354.3 482.4,354.9 482.0,355.6 486.5,356.2 488.7,356.8 484.3,357.5 485.3,358.1 482.3,358.7 483.3,359.4 483.0,360.0 485.3,360.6 485.8,361.3 490.2,361.9 487.8,362.5 490.6,363.2 492.0,363.8 491.7,364.4 494.7,365.1 492.3,365.7 491.7,366.3 491.4,366.9 492.0,367.6 488.5,368.2 489.2,368.8 488.9,369.5 488.2,370.1 487.1,370.7 485.1,371.4 489.4,372.0 491.9,372.6 493.9,373.3 491.4,373.9 488.4,374.5 485.7,375.2 487.6,375.8 488.1,376.4 488.5,377.1 488.1,377.7 486.1,378.3 484.8,379.0 486.3,379.6 489.2,380.2 487.5,380.9 490.2,381.5 489.5,382.1 490.6,382.7 490.7,383.4 492.8,384.0 490.3,384.6 494.5,385.3 493.3,385.9 495.4,386.5 491.0,387.2 494.9,387.8 493.9,388.4 490.5,389.1 490.6,389.7 494.1,390.3 493.1,391.0 493.2,391.6 492.4,392.2 489.7,392.9 485.5,393.5 487.7,394.1 485.1,394.8 487.8,395.4 491.5,396.0 487.9,396.7 486.0,397.3 485.4,397.9 484.9,398.5 483.4,399.2 489.1,399.8 489.2,400.4 489.1,401.1 488.3,401.7 486.9,402.3 485.2,403.0 485.3,403.6 486.2,404.2 486.9,404.9 483.9,405.5 486.6,406.1 489.4,406.8 483.8,407.4 483.7,408.0 481.7,408.7 479.1,409.3 474.4,409.9 472.3,410.6 464.4,411.2 461.3,411.8 458.1,412.5 455.9,413.1 448.6,413.7 442.7,414.3 439.5,415.0 437.9,415.6 441.5,416.2 449.8,416.9 456.4,417.5 463.7,418.1 465.1,418.8 470.9,419.4 474.8,420.0 478.2,420.7 484.0,421.3 481.7,421.9 481.5,422.6 482.5,423.2 478.8,423.8 477.9,424.5 479.4,425.1 478.8,425.7 475.6,426.4 472.2,427.0 469.9,427.6 464.2,428.3 460.7,428.9 457.7,429.5 453.5,430.1 451.6,430.8 445.4,431.4 441.2,432.0 435.8,432.7 430.6,433.3 423.8,433.9 420.6,434.6 414.4,435.2 409.7,435.8 406.4,436.5 401.5,437.1 396.4,437.7 394.1,438.4 389.8,439.0 383.4,439.6 383.6,440.3 383.9,440.9 379.5,441.5 380.2,442.2 377.9,442.8 378.5,443.4 373.8,444.1 374.8,444.7 371.7,445.3 373.6,445.9 373.0,446.6 375.4,447.2 374.3,447.8 372.5,448.5 369.4,449.1 370.7,449.7 371.5,450.4 372.3,451.0 370.6,451.6 377.1,452.3 382.4,452.9 382.7,453.5 386.9,454.2 390.9,454.8 395.5,455.4 401.7,456.1 404.1,456.7 401.1,457.3 394.8,458.0 394.0,458.6 390.4,459.2 387.2,459.9 386.2,460.5 381.2,461.1 381.8,461.7 383.1,462.4 381.9,463.0 382.8,463.6 381.9,464.3 384.1,464.9 383.6,465.5 381.9,466.2 384.4,466.8 382.1,467.4 379.6,468.1 378.8,468.7 375.6,469.3 376.4,470.0 373.5,470.6 374.5,471.2 375.6,471.9 376.2,472.5 374.1,473.1 375.0,473.8 374.1,474.4 372.6,475.0 370.9,475.7 372.0,476.3 373.9,476.9 370.7,477.5 372.4,478.2 371.5,478.8 370.9,479.4 372.3,480.1 368.8,480.7 372.1,481.3 374.6,482.0 373.0,482.6 371.1,483.2 370.0,483.9 371.3,484.5 373.4,485.1 373.1,485.8 368.7,486.4 368.8,487.0 369.0,487.7 373.0,488.3 370.4,488.9 367.9,489.6 372.9,490.2 371.9,490.8 374.2,491.5 368.8,492.1 369.7,492.7 368.1,493.3 369.3,494.0 369.7,494.6 371.9,495.2 373.8,495.9 372.6,496.5 373.0,497.1 375.8,497.8 375.8,498.4 376.1,499.0 372.9,499.7 371.1,500.3 372.7,500.9 370.1,501.6 368.9,502.2 372.3,502.8 371.7,503.5 373.2,504.1 375.4,504.7 374.9,505.4 370.5,506.0 371.2,506.6 371.5,507.3 371.0,507.9 370.8,508.5 371.4,509.1 369.5,509.8 373.4,510.4 370.5,511.0 369.7,511.7 371.1,512.3 373.1,512.9 373.1,513.6 373.8,514.2 370.2,514.8 370.6,515.5 370.1,516.1 368.7,516.7 370.6,517.4 370.2,518.0 371.2,518.6 371.4,519.3 372.3,519.9 370.5,520.5 367.9,521.2 369.7,521.8 373.7,522.4 374.5,523.1 370.1,523.7 372.4,524.3 375.3,524.9 370.1,525.6 368.3,526.2 369.5,526.8 371.2,527.5 371.5,528.1 373.0,528.7 368.4,529.4 368.5,530.0" fill="none" stroke="#ff1414" stroke-width="0.95" stroke-linejoin="round" stroke-dasharray="1.1 1.1"/>
<polyline points="410.3,357.3 406.7,357.9 404.4,358.5 399.8,359.2 397.7,359.8 395.0,360.4 391.9,361.1 390.9,361.7 387.8,362.3 386.1,363.0 385.6,363.6 387.0,364.2 388.5,364.9 390.6,365.5 391.8,366.1 395.6,366.8 397.1,367.4 399.9,368.0 406.0,368.7 410.0,369.3 413.3,369.9 415.8,370.5 420.8,371.2 423.9,371.8 428.0,372.4 430.7,373.1 433.5,373.7 437.3,374.3 442.7,375.0 445.6,375.6 449.8,376.2 452.6,376.9 456.6,377.5 457.8,378.1 459.3,378.8 461.7,379.4 464.0,380.0 466.2,380.7 469.1,381.3 472.8,381.9 473.4,382.6 476.3,383.2 480.0,383.8 481.2,384.5 482.7,385.1 484.9,385.7 484.6,386.3 487.8,387.0 487.8,387.6 488.6,388.2 491.0,388.9 491.4,389.5 491.4,390.1 493.3,390.8 491.2,391.4 490.7,392.0 488.8,392.7 488.8,393.3 489.0,393.9 488.0,394.6 487.9,395.2 489.3,395.8 490.5,396.5 491.1,397.1 489.9,397.7 488.9,398.4 488.9,399.0 488.8,399.6 492.9,400.3 492.8,400.9 494.4,401.5 492.6,402.1 491.9,402.8 491.7,403.4 490.1,404.0 492.5,404.7 491.1,405.3 491.2,405.9 493.2,406.6 490.2,407.2 493.5,407.8 493.0,408.5 492.4,409.1 491.8,409.7 489.6,410.4 490.8,411.0 489.7,411.6 492.2,412.3 492.3,412.9 494.1,413.5 492.5,414.2 492.8,414.8 491.2,415.4 493.8,416.1 493.2,416.7 490.5,417.3 494.0,417.9 492.4,418.6 491.6,419.2 491.0,419.8 491.6,420.5 492.1,421.1 490.1,421.7 492.6,422.4 491.6,423.0 491.4,423.6 491.0,424.3 492.0,424.9 494.8,425.5 492.3,426.2 493.7,426.8 491.8,427.4 489.9,428.1 490.2,428.7 492.1,429.3 490.8,430.0 492.5,430.6 493.6,431.2 492.9,431.9 492.2,432.5 491.7,433.1 492.2,433.7 493.1,434.4 491.9,435.0 493.4,435.6 492.7,436.3 495.4,436.9 495.9,437.5 492.5,438.2 494.2,438.8 494.0,439.4 495.7,440.1 492.9,440.7 493.9,441.3 495.7,442.0 495.4,442.6 492.0,443.2 491.3,443.9 494.8,444.5 491.6,445.1 494.5,445.8 493.8,446.4 493.2,447.0 491.7,447.7 494.3,448.3 492.0,448.9 493.7,449.5 492.2,450.2 490.5,450.8 491.5,451.4 494.8,452.1 493.0,452.7 493.4,453.3 492.1,454.0 491.2,454.6 494.2,455.2 493.2,455.9 492.4,456.5 490.7,457.1 491.4,457.8 491.8,458.4 491.1,459.0 493.9,459.7 491.7,460.3 492.0,460.9 491.9,461.6 494.3,462.2 493.5,462.8 493.7,463.5 494.8,464.1 491.7,464.7 490.7,465.3 492.2,466.0 494.8,466.6 491.4,467.2 494.2,467.9 493.6,468.5 493.0,469.1 491.3,469.8 491.5,470.4 491.8,471.0 492.5,471.7 490.4,472.3 490.3,472.9 492.5,473.6 491.4,474.2 490.1,474.8 491.8,475.5 494.6,476.1 495.9,476.7 492.0,477.4 494.1,478.0 492.0,478.6 494.1,479.3 494.9,479.9 495.6,480.5 492.6,481.1 494.9,481.8 494.0,482.4 492.0,483.0 492.5,483.7 495.4,484.3 496.7,484.9 493.3,485.6 494.4,486.2 496.1,486.8 494.7,487.5 492.8,488.1 494.4,488.7 496.0,489.4 496.5,490.0 495.4,490.6 493.4,491.3 496.0,491.9 493.9,492.5 493.3,493.2 493.8,493.8 494.9,494.4 497.2,495.1 495.9,495.7 495.9,496.3 494.6,496.9 497.1,497.6 497.8,498.2 498.9,498.8 497.1,499.5 498.4,500.1 496.7,500.7 496.5,501.4 497.0,502.0 497.9,502.6 494.8,503.3 495.5,503.9 497.4,504.5 495.6,505.2 493.7,505.8 494.1,506.4 492.0,507.1 491.1,507.7 491.4,508.3 494.5,509.0 493.9,509.6 492.9,510.2 493.9,510.9 492.5,511.5 491.1,512.1 490.1,512.7 489.7,513.4 489.5,514.0 491.7,514.6 491.1,515.3 491.4,515.9 490.2,516.5 492.9,517.2 493.8,517.8 491.5,518.4 490.4,519.1 492.4,519.7 490.6,520.3 489.8,521.0 490.1,521.6 491.1,522.2 493.6,522.9 493.8,523.5 491.3,524.1 489.3,524.8 492.2,525.4 494.2,526.0 493.5,526.7 490.3,527.3 492.4,527.9 489.8,528.5 489.4,529.2 488.9,529.8 487.9,530.4" fill="none" stroke="#1414ff" stroke-width="0.95" stroke-linejoin="round"/>
<polyline points="452.8,357.3 456.1,357.9 457.5,358.5 463.9,359.2 465.9,359.8 467.3,360.4 471.2,361.1 472.5,361.7 475.5,362.3 477.5,363.0 478.5,363.6 475.5,364.2 473.1,364.9 471.7,365.5 470.7,366.1 468.0,366.8 466.1,367.4 464.4,368.0 456.2,368.7 453.7,369.3 450.4,369.9 445.5,370.5 442.7,371.2 437.4,371.8 434.6,372.4 431.4,373.1 429.0,373.7 426.8,374.3 419.5,375.0 418.3,375.6 413.5,376.2 411.7,376.9 408.0,377.5 405.7,378.1 405.4,378.8 401.7,379.4 397.8,380.0 395.0,380.7 394.2,381.3 391.5,381.9 390.2,382.6 388.2,383.2 384.0,383.8 381.4,384.5 379.9,385.1 379.8,385.7 378.5,386.3 375.5,387.0 375.5,387.6 375.7,388.2 372.4,388.9 373.0,389.5 371.0,390.1 369.2,390.8 371.3,391.4 372.6,392.0 372.6,392.7 374.7,393.3 375.1,393.9 375.4,394.6 373.6,395.2 374.9,395.8 371.6,396.5 370.4,397.1 371.8,397.7 374.3,398.4 374.3,399.0 372.9,399.6 369.4,400.3 369.2,400.9 369.8,401.5 370.0,402.1 370.3,402.8 372.3,403.4 374.0,404.0 369.3,404.7 371.6,405.3 372.1,405.9 369.9,406.6 373.6,407.2 370.4,407.8 371.4,408.5 371.0,409.1 372.4,409.7 372.0,410.4 370.6,411.0 373.0,411.6 372.3,412.3 370.3,412.9 370.1,413.5 371.0,414.2 371.5,414.8 371.8,415.4 370.7,416.1 370.5,416.7 373.4,417.3 369.1,417.9 369.1,418.6 371.1,419.2 371.0,419.8 370.6,420.5 370.8,421.1 374.4,421.7 372.0,422.4 372.7,423.0 371.6,423.6 372.6,424.3 369.4,424.9 369.2,425.5 372.0,426.2 368.8,426.8 370.8,427.4 374.6,428.1 373.4,428.7 371.1,429.3 371.1,430.0 369.5,430.6 368.0,431.2 370.0,431.9 369.3,432.5 371.4,433.1 371.6,433.7 371.2,434.4 370.0,435.0 369.1,435.6 369.9,436.3 365.9,436.9 366.6,437.5 371.1,438.2 368.1,438.8 367.5,439.4 368.4,440.1 368.5,440.7 369.4,441.3 368.7,442.0 367.6,442.6 370.1,443.2 371.7,443.9 369.1,444.5 370.5,445.1 369.9,445.8 368.6,446.4 370.3,447.0 370.9,447.7 368.7,448.3 371.8,448.9 370.3,449.5 369.7,450.2 372.6,450.8 372.3,451.4 367.8,452.1 369.0,452.7 371.1,453.3 371.1,454.0 373.0,454.6 367.9,455.2 371.4,455.9 369.4,456.5 372.1,457.1 371.5,457.8 371.1,458.4 372.6,459.0 369.3,459.7 372.5,460.3 371.5,460.9 370.7,461.6 368.3,462.2 370.1,462.8 368.9,463.5 367.2,464.1 370.4,464.7 374.0,465.3 370.8,466.0 369.4,466.6 370.4,467.2 368.5,467.9 369.6,468.5 369.6,469.1 371.7,469.8 372.6,470.4 369.7,471.0 372.1,471.7 374.2,472.3 373.4,472.9 371.7,473.6 372.1,474.2 372.5,474.8 371.6,475.5 366.8,476.1 367.7,476.7 369.4,477.4 367.3,478.0 370.8,478.6 367.8,479.3 369.6,479.9 365.9,480.5 370.6,481.1 368.7,481.8 367.5,482.4 371.4,483.0 371.9,483.7 369.3,484.3 365.2,484.9 370.8,485.6 368.1,486.2 368.4,486.8 367.2,487.5 368.5,488.1 369.1,488.7 365.9,489.4 365.1,490.0 368.6,490.6 369.7,491.3 365.2,491.9 367.5,492.5 369.4,493.2 369.0,493.8 369.8,494.4 364.6,495.1 365.5,495.7 366.9,496.3 369.4,496.9 367.2,497.6 364.8,498.2 363.5,498.8 365.6,499.5 363.4,500.1 367.9,500.7 368.2,501.4 367.4,502.0 365.7,502.6 369.8,503.3 368.4,503.9 366.7,504.5 366.3,505.2 369.2,505.8 370.0,506.4 371.0,507.1 373.1,507.7 369.9,508.3 369.9,509.0 370.0,509.6 369.9,510.2 367.7,510.9 369.9,511.5 373.1,512.1 372.5,512.7 372.5,513.4 372.0,514.0 370.9,514.6 372.8,515.3 370.5,515.9 372.1,516.5 368.8,517.2 370.3,517.8 370.3,518.4 372.6,519.1 371.5,519.7 373.2,520.3 374.6,521.0 371.5,521.6 373.2,522.2 368.9,522.9 370.0,523.5 372.6,524.1 374.2,524.8 369.5,525.4 370.3,526.0 369.9,526.7 373.3,527.3 370.6,527.9 372.8,528.5 372.3,529.2 373.6,529.8 373.8,530.4" fill="none" stroke="#1414ff" stroke-width="0.95" stroke-linejoin="round" stroke-dasharray="1.1 1.1"/>
</g>
<g stroke="#000" stroke-width="0.9" fill="none">
<rect x="358.20" y="349.25" width="146.60" height="181.35"/>
<path d="M358.20 349.25v2.6M358.20 530.60v-2.6M364.06 349.25v1.4M364.06 530.60v-1.4M369.93 349.25v1.4M369.93 530.60v-1.4M375.79 349.25v1.4M375.79 530.60v-1.4M381.66 349.25v1.4M381.66 530.60v-1.4M387.52 349.25v2.6M387.52 530.60v-2.6M393.38 349.25v1.4M393.38 530.60v-1.4M399.25 349.25v1.4M399.25 530.60v-1.4M405.11 349.25v1.4M405.11 530.60v-1.4M410.98 349.25v1.4M410.98 530.60v-1.4M416.84 349.25v2.6M416.84 530.60v-2.6M422.70 349.25v1.4M422.70 530.60v-1.4M428.57 349.25v1.4M428.57 530.60v-1.4M434.43 349.25v1.4M434.43 530.60v-1.4M440.30 349.25v1.4M440.30 530.60v-1.4M446.16 349.25v2.6M446.16 530.60v-2.6M452.02 349.25v1.4M452.02 530.60v-1.4M457.89 349.25v1.4M457.89 530.60v-1.4M463.75 349.25v1.4M463.75 530.60v-1.4M469.62 349.25v1.4M469.62 530.60v-1.4M475.48 349.25v2.6M475.48 530.60v-2.6M481.34 349.25v1.4M481.34 530.60v-1.4M487.21 349.25v1.4M487.21 530.60v-1.4M493.07 349.25v1.4M493.07 530.60v-1.4M498.94 349.25v1.4M498.94 530.60v-1.4M504.80 349.25v2.6M504.80 530.60v-2.6M358.20 530.60h2.6M504.80 530.60h-2.6M504.80 530.60h2.6M358.20 514.80h1.4M504.80 514.80h-1.4M504.80 514.80h1.4M358.20 499.00h2.6M504.80 499.00h-2.6M504.80 499.00h2.6M358.20 483.20h1.4M504.80 483.20h-1.4M504.80 483.20h1.4M358.20 467.40h2.6M504.80 467.40h-2.6M504.80 467.40h2.6M358.20 451.60h1.4M504.80 451.60h-1.4M504.80 451.60h1.4M358.20 435.80h2.6M504.80 435.80h-2.6M504.80 435.80h2.6M358.20 420.00h1.4M504.80 420.00h-1.4M504.80 420.00h1.4M358.20 404.20h2.6M504.80 404.20h-2.6M504.80 404.20h2.6M358.20 388.40h1.4M504.80 388.40h-1.4M504.80 388.40h1.4M358.20 372.60h2.6M504.80 372.60h-2.6M504.80 372.60h2.6M358.20 356.80h1.4M504.80 356.80h-1.4M504.80 356.80h1.4" stroke-width="0.7"/>
</g>
<text x="358.2" y="541.8" font-size="8.2" text-anchor="middle">100</text>
<text x="387.5" y="541.8" font-size="8.2" text-anchor="middle">80</text>
<text x="416.8" y="541.8" font-size="8.2" text-anchor="middle">60</text>
<text x="446.2" y="541.8" font-size="8.2" text-anchor="middle">40</text>
<text x="475.5" y="541.8" font-size="8.2" text-anchor="middle">20</text>
<text x="504.8" y="541.8" font-size="8.2" text-anchor="middle">0</text>
<text x="509.4" y="533.5" font-size="8.2" text-anchor="start">0.0</text>
<text x="509.4" y="501.9" font-size="8.2" text-anchor="start">0.2</text>
<text x="509.4" y="470.3" font-size="8.2" text-anchor="start">0.4</text>
<text x="509.4" y="438.7" font-size="8.2" text-anchor="start">0.6</text>
<text x="509.4" y="407.1" font-size="8.2" text-anchor="start">0.8</text>
<text x="509.4" y="375.5" font-size="8.2" text-anchor="start">1.0</text>
<rect x="405.5" y="477.8" width="53.3" height="48.2" fill="#fff" stroke="#b4b4b4" stroke-width="0.7"/>
<line x1="407.0" y1="484.5" x2="423.8" y2="484.5" stroke="#1414ff" stroke-width="1.1"/>
<text x="427.5" y="487.8" font-size="9.3" text-anchor="start" textLength="29.3" lengthAdjust="spacingAndGlyphs">Al ID 3</text>
<line x1="407.0" y1="496.5" x2="423.8" y2="496.5" stroke="#1414ff" stroke-width="1.1" stroke-dasharray="1.2 1.2"/>
<text x="427.5" y="499.8" font-size="9.3" text-anchor="start" textLength="29.3" lengthAdjust="spacingAndGlyphs">Fe ID 3</text>
<line x1="407.0" y1="507.8" x2="423.8" y2="507.8" stroke="#ff1414" stroke-width="1.1"/>
<text x="427.5" y="511.1" font-size="9.3" text-anchor="start" textLength="29.3" lengthAdjust="spacingAndGlyphs">Al ID 6</text>
<line x1="407.0" y1="519.5" x2="423.8" y2="519.5" stroke="#ff1414" stroke-width="1.1" stroke-dasharray="1.2 1.2"/>
<text x="427.5" y="522.8" font-size="9.3" text-anchor="start" textLength="29.3" lengthAdjust="spacingAndGlyphs">Fe ID 6</text>
<rect x="351.4" y="393.5" width="15.5" height="100.5" fill="#fff"/>
<text transform="translate(354.0 445) rotate(90)" class="h" font-size="12.8" text-anchor="middle" textLength="86" lengthAdjust="spacingAndGlyphs">Distance [mm]</text>
</svg></body></html>
